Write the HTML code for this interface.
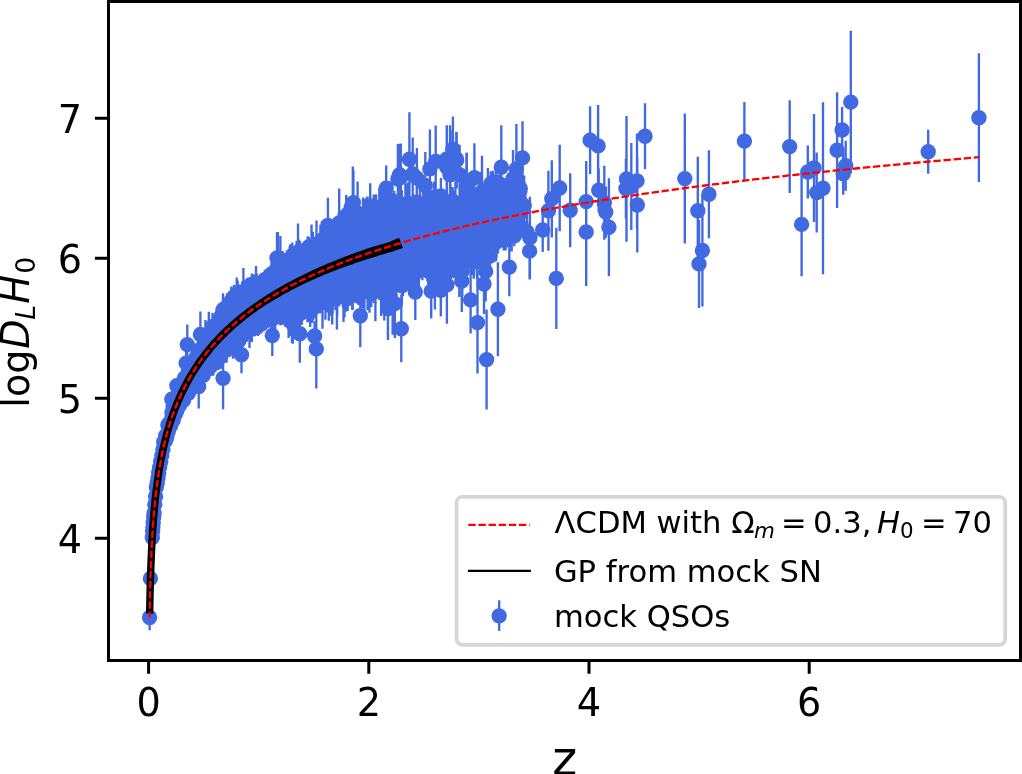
<!DOCTYPE html>
<html lang="en"><head><meta charset="utf-8"><title>mock QSOs</title>
<style>html,body{margin:0;padding:0;background:#fff}svg{display:block}</style></head>
<body>
<svg width="1022" height="774" viewBox="0 0 1022 774">
<rect width="1022" height="774" fill="#fff"/>
<path d="M150.4 574.3V582.7M152.3 534.8V540.4M152.6 528.8V534.4M152.9 524.6V530.2M153.2 519.9V525.5M153.7 513.9V519.5M154.1 510.2V515.8M154.8 501.6V507.2M155.6 493.6V499.2M156.3 484.4V490.0M157.2 480.1V485.7M158.0 475.1V480.7M158.7 469.9V475.5M159.6 464.8V470.4M160.7 458.9V464.5M161.8 452.7V458.3M162.9 446.7V452.3M263.3 289.6V311.2M266.1 306.4V323.0M442.8 203.9V243.8M245.4 317.9V335.2M328.1 262.2V299.0M261.2 287.1V309.0M376.1 219.7V255.3M219.8 333.2V351.1M363.0 197.5V242.3M288.5 273.9V304.8M219.3 317.8V337.8M304.0 268.9V291.1M249.3 292.5V323.4M283.2 259.6V289.8M424.5 252.0V273.1M296.9 245.7V268.4M265.7 290.4V312.5M332.3 226.6V262.2M265.0 294.5V307.9M299.9 299.1V323.9M342.9 276.4V307.7M189.8 359.8V382.0M219.1 319.0V336.4M177.2 404.4V414.5M344.8 259.5V287.6M173.8 403.6V414.4M308.5 292.7V317.5M448.8 195.6V230.9M310.9 253.7V268.9M424.5 208.1V245.8M254.1 292.8V316.6M461.2 193.0V229.4M349.3 255.4V276.0M310.4 275.3V300.5M227.9 317.3V344.8M420.0 213.6V247.6M239.7 316.7V337.2M299.5 277.2V302.1M205.4 347.5V362.6M280.8 278.1V299.3M349.7 260.9V295.9M257.8 292.0V313.5M263.0 274.1V289.5M228.2 302.9V319.9M272.7 279.0V300.1M299.5 258.4V295.7M436.5 235.4V271.9M177.0 402.8V417.8M239.0 312.1V324.1M383.5 220.7V257.7M218.4 316.3V335.7M284.6 292.4V309.8M514.8 194.9V219.0M350.8 219.3V259.8M472.2 218.8V267.8M419.8 217.2V242.3M266.7 294.8V324.4M437.3 228.8V268.7M258.7 301.4V329.1M322.8 238.7V273.0M220.8 327.0V345.7M242.2 301.9V347.0M201.7 357.7V370.5M359.6 227.8V270.4M308.9 237.1V256.3M292.3 242.5V271.0M261.4 293.4V310.3M290.1 287.1V320.5M247.2 283.1V326.4M256.7 273.6V298.8M251.8 273.4V300.5M355.6 223.6V250.0M463.1 229.5V251.5M360.2 252.6V274.1M292.0 290.7V311.3M385.3 222.1V251.7M293.7 288.3V320.5M260.2 290.4V317.6M354.1 264.1V293.2M253.4 297.0V316.1M347.4 251.3V274.9M313.2 272.9V297.9M452.2 234.7V271.3M381.1 267.8V316.1M219.3 339.1V354.8M208.1 346.2V369.3M379.4 255.1V300.0M336.3 266.4V301.4M303.4 269.4V305.5M260.8 309.8V326.2M350.0 225.8V251.7M339.1 238.1V277.8M390.4 195.3V260.9M226.6 329.6V362.8M242.0 321.9V330.4M284.5 275.4V300.4M266.9 293.1V309.9M266.9 304.0V316.6M269.2 298.6V318.1M389.6 209.7V249.2M179.6 386.1V398.6M271.5 268.2V279.7M327.3 266.4V286.2M185.3 375.4V385.8M269.9 270.1V302.7M206.2 336.4V364.4M347.5 233.6V281.5M236.0 307.6V337.9M241.6 294.8V314.0M298.2 250.4V278.4M228.5 330.7V354.2M291.4 279.6V304.7M278.0 298.2V315.2M243.7 299.2V327.6M294.1 274.4V314.7M208.7 340.5V351.6M271.9 266.1V285.9M220.6 325.2V363.2M330.4 230.4V254.2M349.3 239.7V268.1M345.3 252.5V279.8M358.0 250.6V271.6M273.4 280.5V314.4M409.5 196.5V246.9M255.2 287.3V308.0M492.6 184.1V251.1M274.1 293.3V306.6M401.8 190.0V226.2M311.9 245.3V275.7M227.1 332.8V350.7M327.6 233.4V264.2M297.8 273.9V302.9M241.6 304.3V322.7M222.8 310.3V337.1M274.9 286.2V319.7M284.6 282.6V301.6M241.2 300.9V320.2M209.9 359.8V373.5M311.9 276.4V290.4M187.8 377.1V387.3M360.6 233.9V266.4M368.6 230.8V286.7M283.7 299.1V317.4M203.1 359.2V372.2M362.8 253.6V306.3M328.8 259.6V284.0M306.1 282.1V313.9M257.3 298.2V314.1M192.2 362.7V369.6M212.0 346.6V359.7M340.9 281.8V304.3M237.5 290.5V313.4M311.1 277.0V303.5M387.6 190.6V234.9M238.5 306.3V321.6M236.5 294.9V313.3M443.1 228.5V261.1M297.7 253.7V317.4M290.3 288.1V306.0M289.3 261.3V308.7M227.5 339.4V354.5M331.7 275.4V300.7M256.5 284.0V316.3M347.5 286.3V310.9M305.1 277.2V296.6M395.3 193.9V230.3M274.1 267.9V294.0M223.0 321.1V335.6M234.6 310.8V334.5M206.8 340.6V353.7M295.6 256.2V272.7M340.6 250.8V284.6M349.4 232.9V296.2M469.1 201.0V243.2M272.2 284.4V299.6M262.9 293.9V307.4M261.2 296.7V318.0M332.0 257.4V294.3M355.7 248.6V273.0M180.8 391.9V406.8M353.0 214.7V247.5M329.7 233.2V268.8M253.5 294.5V321.4M418.9 238.5V287.8M246.2 289.8V313.6M269.5 270.0V288.9M320.7 253.4V275.0M427.5 203.1V236.6M373.7 194.6V246.2M393.8 252.5V281.8M293.0 304.9V323.5M351.6 246.4V265.6M436.6 264.9V288.5M511.2 205.4V229.5M344.4 257.3V280.3M256.1 304.2V327.8M348.8 238.5V275.8M243.2 281.2V301.9M378.0 212.4V238.8M289.1 260.5V286.8M297.5 286.7V303.3M214.6 332.7V348.5M291.1 273.2V304.7M240.3 298.3V321.4M322.6 273.9V296.0M238.6 294.4V312.0M354.3 244.5V273.5M328.6 270.7V292.2M204.3 364.2V378.2M251.8 287.1V303.5M249.3 296.4V312.1M277.0 295.3V316.9M382.1 206.8V229.3M247.5 304.9V319.5M395.4 264.9V292.3M409.6 270.2V290.4M269.3 287.4V299.0M252.6 297.9V324.3M346.3 250.8V311.4M274.8 268.3V313.8M468.4 204.5V224.3M273.5 268.0V287.0M170.8 417.5V424.9M280.6 293.5V313.8M352.7 264.4V310.0M265.0 284.6V302.5M205.4 339.1V350.2M382.2 234.4V272.9M198.7 339.7V367.0M278.8 278.6V301.8M259.4 290.8V324.2M270.3 293.9V314.7M313.6 256.3V289.7M420.5 198.0V262.2M384.6 244.1V271.7M344.5 261.6V317.3M360.5 256.5V314.4M452.6 187.0V215.1M326.8 260.6V301.5M461.2 197.8V226.1M261.2 310.6V333.6M249.6 301.1V323.4M280.6 287.4V305.0M496.0 218.2V261.3M284.1 272.1V313.0M341.1 268.0V303.9M234.0 290.2V320.1M328.7 269.0V309.0M245.7 299.4V320.0M325.4 234.7V287.4M308.1 246.8V282.9M319.0 271.8V290.5M258.2 310.2V320.5M305.6 288.1V311.3M206.9 338.5V357.0M462.7 196.7V226.1M314.9 239.2V264.6M352.6 226.0V252.8M451.8 187.9V214.4M406.8 189.8V238.1M252.9 290.5V316.3M364.5 213.6V245.2M253.9 313.4V330.0M187.1 373.4V388.3M331.8 280.1V303.7M394.7 243.4V287.3M201.6 349.4V366.4M275.5 265.1V281.1M373.6 240.8V274.9M382.8 208.9V248.3M264.8 292.8V307.8M223.2 307.8V320.9M353.4 222.5V255.1M314.6 272.9V297.4M325.6 229.6V265.0M411.8 214.3V248.1M231.3 316.6V340.3M250.6 279.4V290.0M381.5 235.8V261.2M228.8 327.5V350.3M407.2 185.2V226.4M386.2 284.3V308.3M350.7 218.9V250.3M351.7 216.3V268.8M217.8 319.5V332.8M282.3 304.1V317.9M403.1 260.5V292.9M232.9 293.3V327.0M258.3 307.9V328.5M227.1 328.4V352.7M305.2 280.2V317.7M201.8 355.3V369.1M343.0 215.7V249.3M398.1 219.9V247.7M309.5 286.5V315.7M222.6 340.6V361.0M269.2 284.1V305.2M168.8 419.8V427.3M237.3 316.7V342.7M270.8 274.5V290.8M259.3 292.0V314.3M327.4 263.4V309.0M257.7 283.8V300.8M302.8 255.0V284.9M440.0 235.2V258.9M377.5 218.7V251.1M319.6 244.5V279.4M225.8 322.7V338.2M296.4 281.3V302.7M249.6 312.7V325.0M199.1 368.7V380.4M269.2 283.7V308.9M233.5 321.4V349.8M270.7 265.3V289.5M459.0 213.6V233.8M402.6 212.9V245.5M245.4 309.6V336.6M255.7 295.2V318.8M240.5 313.0V335.8M453.0 230.6V271.4M224.5 320.9V336.1M228.5 320.8V344.2M272.6 291.5V315.0M257.0 308.2V322.9M467.2 183.8V209.4M287.3 275.2V312.2M266.1 280.4V302.7M274.5 290.2V304.8M198.7 352.8V367.0M353.9 228.8V262.1M302.2 249.1V274.4M472.5 183.5V226.0M270.1 277.3V303.2M173.7 398.6V411.5M270.7 295.0V309.7M417.1 201.0V245.8M183.2 383.9V392.8M297.9 255.3V291.6M204.0 340.2V360.2M329.0 249.8V299.8M279.5 281.7V310.1M474.2 207.2V238.5M254.6 282.0V304.7M269.2 279.9V305.8M208.6 332.9V343.9M203.5 352.8V365.1M292.0 279.2V306.8M363.4 239.7V283.2M234.5 292.7V318.9M251.4 310.6V325.7M367.5 196.5V250.8M243.1 300.5V321.8M254.5 305.5V329.0M264.8 269.7V289.5M274.2 295.1V312.5M360.9 232.1V257.9M281.6 265.9V306.7M212.7 342.5V361.0M191.8 364.2V385.6M195.2 358.3V368.9M243.3 315.5V333.0M447.9 206.8V231.7M339.7 248.3V293.6M262.9 292.7V311.1M184.2 385.2V394.4M454.0 243.9V278.2M243.6 322.4V338.3M250.1 315.3V328.2M207.1 336.6V349.8M262.8 307.1V321.2M265.7 307.9V322.4M239.2 308.6V326.2M187.2 372.4V380.8M343.9 243.3V276.0M334.0 262.7V286.1M187.7 387.0V400.0M386.6 212.6V255.4M298.0 246.2V272.8M328.6 262.7V286.6M245.6 301.7V320.9M293.8 291.2V312.2M182.6 390.6V400.9M228.4 313.8V340.5M301.9 265.1V302.1M302.8 249.1V289.5M286.8 272.3V297.0M231.9 319.2V348.1M344.6 268.8V289.3M430.4 194.8V247.3M369.5 263.9V312.8M229.7 312.0V328.4M319.2 266.1V294.7M285.3 301.6V327.0M383.4 262.1V295.5M299.7 278.7V301.0M330.1 258.1V282.5M289.1 278.1V302.1M435.5 253.5V281.9M215.5 323.1V336.8M190.2 378.9V392.9M213.7 352.1V373.2M340.3 237.5V272.5M194.6 352.7V368.4M180.3 394.2V411.3M277.8 275.3V300.7M242.8 319.6V339.9M426.5 221.9V248.4M283.9 253.7V278.7M231.3 286.4V315.2M219.3 342.6V357.9M205.9 340.4V359.3M280.5 286.6V304.1M197.4 372.3V382.0M292.0 261.1V282.8M225.7 313.8V345.6M261.3 314.5V333.5M329.7 280.6V300.9M172.7 410.1V419.6M396.9 208.3V253.0M362.9 267.8V308.0M200.5 343.7V354.8M289.1 287.6V319.7M199.7 365.9V378.3M238.0 290.8V328.7M240.7 292.6V305.7M240.4 316.0V332.2M283.4 283.7V304.1M216.1 330.5V343.5M431.8 189.8V220.7M225.1 331.7V346.5M396.5 237.5V263.8M352.7 256.9V296.4M374.3 213.2V234.2M457.5 196.0V231.3M443.1 227.4V258.7M371.5 212.7V233.8M195.9 363.9V381.1M227.9 293.4V324.7M215.3 331.5V347.8M284.7 253.0V289.5M298.8 294.4V323.5M232.0 325.8V348.3M284.3 284.3V315.3M336.8 244.5V267.8M215.8 325.3V347.1M297.1 282.3V304.6M212.1 341.2V359.3M229.5 333.1V355.0M278.8 263.8V278.5M294.1 281.7V307.5M419.7 209.2V235.2M191.8 363.8V377.1M297.4 261.3V288.0M235.4 299.0V313.9M305.0 259.8V280.1M367.6 256.0V310.3M220.8 336.5V368.8M354.5 225.8V258.8M261.8 307.8V328.6M275.1 305.6V329.1M207.1 344.6V356.9M257.7 309.3V335.3M235.2 331.5V353.3M481.9 214.0V243.8M332.9 248.0V292.6M483.8 241.8V277.0M229.9 321.4V335.4M318.2 235.0V258.4M318.0 247.0V269.7M248.0 289.0V304.9M283.0 264.7V282.9M246.5 305.0V322.1M350.1 240.0V268.0M307.4 276.6V322.3M197.8 366.8V382.0M252.1 309.1V334.9M329.6 280.3V311.8M315.8 240.6V285.7M366.3 197.6V235.5M355.8 263.8V299.3M217.1 321.9V342.7M407.1 228.1V251.6M225.2 317.8V334.9M276.4 272.9V303.2M263.3 277.9V301.0M332.3 281.8V310.5M285.7 296.8V316.7M317.6 267.5V298.9M206.4 337.2V347.8M254.9 300.3V315.2M340.9 237.1V294.4M339.9 251.8V289.0M402.3 202.3V239.7M316.3 254.7V277.1M173.1 402.5V411.2M222.8 334.6V350.1M304.6 249.9V280.6M286.4 290.9V317.3M393.5 265.3V303.6M319.5 251.9V297.5M272.5 280.5V305.2M273.3 288.2V301.8M212.4 330.7V352.7M188.2 369.4V390.3M416.7 185.1V219.0M218.2 325.9V353.5M355.1 202.6V242.5M200.9 351.5V364.2M296.6 278.6V301.0M311.2 261.3V285.4M309.3 278.7V296.9M264.8 289.9V308.6M359.0 255.8V283.2M194.2 358.6V380.4M394.4 194.6V234.3M388.1 196.8V224.5M234.5 327.7V342.4M280.4 293.3V325.4M281.4 259.6V281.4M220.4 350.1V363.8M399.4 231.2V261.5M383.6 237.9V279.2M317.0 253.3V281.4M254.9 276.1V313.2M248.3 279.8V303.4M345.6 248.3V277.6M318.4 273.1V288.6M288.5 263.5V292.7M368.2 254.2V295.9M193.9 378.6V391.9M416.8 225.2V270.4M284.3 288.2V312.0M322.9 250.5V281.5M325.0 229.6V287.6M337.8 252.3V275.0M229.2 304.3V332.7M376.1 194.2V245.8M277.7 287.7V305.5M224.8 310.2V358.7M376.1 265.0V287.9M374.0 259.8V303.1M251.5 293.3V308.5M299.8 241.9V259.3M289.9 272.2V297.9M246.0 284.6V304.0M294.9 285.5V316.3M270.3 285.4V305.4M294.3 272.5V295.1M213.3 349.7V365.9M372.6 235.7V263.8M431.3 216.2V251.9M330.7 248.3V290.7M204.7 359.9V375.3M326.7 243.8V270.8M498.0 225.7V253.4M252.0 308.1V320.6M240.9 294.0V306.6M202.0 343.8V358.0M442.1 193.7V238.5M328.8 276.2V320.8M362.3 253.6V304.1M223.0 325.8V346.4M300.4 271.8V295.6M279.2 270.2V292.2M515.6 190.6V213.3M207.3 331.7V348.5M321.7 225.6V254.9M305.9 269.1V294.2M329.1 283.3V301.1M357.8 204.5V261.3M228.9 304.6V349.0M250.0 300.8V317.2M280.7 291.7V308.1M301.4 264.7V303.9M229.9 331.1V345.1M292.1 292.5V311.7M333.1 231.4V267.7M413.2 194.2V269.1M462.9 190.6V232.5M251.6 310.5V324.8M391.8 205.7V285.5M382.8 248.2V277.9M348.9 246.6V289.1M317.3 273.8V291.5M346.2 195.1V236.3M313.4 236.6V268.0M336.6 239.7V260.9M332.6 245.9V266.4M228.7 323.7V351.7M273.4 307.4V329.0M225.3 318.9V335.0M194.0 372.4V385.9M282.0 287.7V313.5M241.5 324.9V340.9M321.2 273.7V290.6M215.5 340.4V359.0M236.6 291.1V312.4M344.9 204.6V239.3M257.2 298.7V314.2M293.6 263.2V283.6M392.1 232.0V263.2M255.9 293.5V312.8M259.2 297.0V325.3M239.4 302.8V324.8M278.2 287.9V305.5M375.1 197.3V255.2M222.8 334.1V352.7M285.5 270.8V301.8M318.7 249.1V295.9M271.4 271.5V306.7M183.2 384.2V393.7M222.9 315.2V330.6M428.6 252.7V277.5M246.7 313.4V335.8M277.9 258.3V287.6M332.7 250.0V271.0M294.8 287.7V310.6M349.8 234.1V265.5M444.1 232.4V259.5M368.8 202.1V244.6M199.4 344.2V369.2M235.7 322.7V341.4M388.3 251.8V284.8M224.8 342.7V359.0M406.5 223.4V254.8M194.4 367.3V384.0M272.5 294.4V311.7M368.3 218.4V272.3M404.0 269.3V292.9M326.0 237.4V257.9M220.4 323.8V341.7M334.2 231.4V267.6M359.1 237.1V270.4M384.1 204.7V231.8M292.9 272.9V301.9M357.4 211.7V238.0M302.9 253.3V276.5M278.2 295.5V321.7M275.7 285.1V310.8M238.1 298.6V322.3M273.2 284.5V300.9M222.6 332.1V363.1M353.9 233.5V264.2M348.4 197.8V229.1M313.6 253.0V274.7M337.2 268.9V292.7M270.1 278.7V297.2M204.4 343.2V364.0M327.2 278.0V298.2M279.3 272.3V295.6M293.5 271.0V290.0M266.1 281.5V300.1M305.0 277.3V313.6M257.5 291.4V316.8M354.4 199.3V226.4M300.6 295.2V323.5M274.3 297.9V321.2M373.0 267.4V297.6M357.6 231.1V260.8M228.6 318.6V339.2M258.5 288.2V309.0M232.5 321.7V343.6M282.7 251.0V308.2M218.6 343.3V359.7M313.5 264.2V289.4M277.6 279.7V309.1M278.8 288.2V312.9M335.0 231.4V246.9M313.4 266.4V292.0M257.1 296.1V322.2M301.2 261.4V288.3M272.2 298.5V315.2M311.6 273.2V301.7M423.2 183.2V233.6M212.6 322.1V342.0M281.9 294.9V312.9M296.9 284.2V304.1M232.8 306.6V321.1M225.5 313.1V335.8M289.6 260.0V295.8M365.1 232.4V274.4M234.9 289.0V321.8M453.8 222.2V248.5M306.1 256.4V304.7M299.7 262.4V280.6M279.0 280.6V310.7M228.0 302.8V323.0M313.9 256.5V282.0M365.2 215.1V242.1M225.6 320.7V338.9M333.5 220.5V259.6M352.4 208.7V236.4M456.1 213.4V244.8M203.4 354.8V368.1M184.0 388.1V395.7M212.1 345.7V367.1M180.6 389.9V399.0M371.1 233.2V268.9M317.7 267.4V312.3M427.4 227.2V281.3M379.9 227.7V256.7M308.9 241.6V269.2M309.4 281.3V319.3M210.8 345.3V361.6M393.1 225.4V250.7M332.3 221.3V265.5M234.7 318.5V354.5M291.5 247.9V279.2M317.9 277.9V302.1M211.5 327.2V340.4M263.4 301.9V317.4M186.9 379.4V390.2M222.9 312.7V330.6M284.0 272.2V289.6M246.7 292.1V309.3M220.2 326.2V350.5M318.6 263.8V289.5M327.3 224.1V253.4M327.0 254.1V283.6M373.0 209.1V264.2M503.7 187.4V227.4M319.1 273.2V301.9M291.9 253.2V269.6M295.7 269.6V309.4M244.2 295.1V320.9M389.0 181.1V217.7M236.3 306.7V337.2M352.9 247.6V285.4M254.8 318.2V336.2M359.0 233.6V302.5M446.4 199.9V259.3M265.2 316.3V325.7M282.3 253.8V287.2M380.0 262.7V298.9M425.4 213.4V273.3M266.9 292.5V306.3M290.9 292.5V322.3M252.1 294.6V312.0M275.1 301.2V321.6M258.5 287.0V306.1M343.5 258.3V298.6M292.4 248.5V267.5M369.1 256.5V286.7M193.7 364.7V379.1M416.9 259.3V284.5M313.4 264.3V292.6M201.4 360.7V372.0M197.1 362.9V377.4M236.9 313.2V327.7M501.0 216.0V232.1M263.3 287.0V304.2M217.5 323.1V351.6M314.9 245.2V280.1M243.1 307.7V339.0M291.7 246.8V276.1M273.1 291.9V311.9M276.2 275.5V300.5M359.8 244.8V269.5M405.5 209.5V242.8M452.5 241.5V264.6M249.8 301.4V331.5M230.3 311.4V335.2M186.1 374.4V384.7M229.7 327.5V348.7M434.2 185.3V216.6M357.4 233.9V267.9M258.8 314.8V334.9M191.1 373.0V387.9M288.9 290.3V314.4M245.4 297.6V341.3M272.2 300.7V323.5M302.1 274.9V297.0M300.8 267.3V289.8M405.4 183.6V227.0M297.6 268.4V296.9M183.7 388.9V397.7M426.4 220.7V240.0M165.4 436.4V445.0M256.1 277.9V321.8M296.9 266.7V299.4M245.2 300.7V320.5M191.8 368.7V387.1M223.1 319.0V337.5M190.5 369.4V381.3M352.5 254.2V286.8M355.9 254.2V283.8M318.8 261.6V280.1M428.1 194.4V229.7M289.7 246.3V274.7M333.2 285.9V305.8M346.0 243.5V268.1M488.6 221.3V260.7M323.7 283.9V310.0M347.7 276.0V309.7M233.2 317.7V341.0M307.1 262.8V296.3M350.1 232.8V269.9M241.6 304.5V330.5M317.8 257.9V293.4M313.7 293.5V316.6M269.5 278.3V304.4M170.6 421.5V430.2M279.7 273.9V289.9M316.4 258.5V304.3M245.0 304.2V322.0M352.2 268.0V309.5M351.8 231.0V260.4M299.3 239.7V277.8M277.5 294.1V308.0M266.6 296.0V313.4M446.2 206.9V236.0M251.3 286.8V303.9M337.2 223.4V288.3M476.4 227.7V247.9M233.4 324.6V341.6M440.9 260.2V289.3M455.4 181.4V225.9M310.8 260.1V288.0M298.6 257.2V277.7M253.1 276.6V298.1M418.5 201.2V228.4M332.2 255.5V281.8M223.0 293.2V331.2M452.1 194.4V218.6M288.6 248.8V272.7M200.9 345.9V362.1M188.1 376.5V384.4M199.1 347.6V362.2M246.9 286.8V300.9M266.2 303.3V313.6M449.1 202.1V237.5M212.7 340.3V357.5M307.1 261.6V293.8M251.3 289.6V301.4M328.1 250.0V300.8M319.9 270.5V313.6M269.9 292.8V307.7M282.8 299.5V324.8M305.9 273.1V297.1M278.0 264.8V290.8M320.3 259.4V289.7M412.5 223.0V258.0M227.8 326.6V348.6M326.9 272.9V296.1M191.6 364.5V374.8M338.0 234.6V262.6M202.3 361.2V379.8M357.5 242.1V273.9M248.8 286.4V307.9M202.9 367.9V380.0M306.3 262.8V290.7M289.0 266.5V296.6M297.9 264.1V291.1M242.5 327.5V343.6M228.5 312.2V346.5M248.9 300.7V325.8M222.7 329.7V345.5M246.0 280.7V309.1M256.8 317.1V335.3M362.7 239.0V282.0M402.9 266.8V296.1M215.7 335.9V347.9M333.8 249.1V276.5M199.0 353.7V382.9M465.0 227.9V274.2M195.1 360.0V374.9M356.9 248.9V278.9M190.3 371.7V381.5M187.5 382.5V393.3M196.0 371.3V388.9M319.4 268.3V309.5M330.9 261.2V315.7M265.4 281.4V294.4M215.1 338.8V353.9M207.5 325.2V344.7M265.0 306.9V322.6M275.1 284.8V311.1M222.2 337.0V353.3M505.7 210.3V243.7M295.3 261.5V283.6M337.2 274.3V316.9M267.4 278.7V297.6M208.4 348.2V362.7M395.7 242.7V290.2M274.4 272.1V289.9M249.5 296.0V347.9M251.7 312.6V336.4M275.2 274.2V294.8M254.8 289.7V302.0M463.6 211.1V252.3M294.7 256.5V293.6M196.5 351.1V362.3M267.1 302.5V318.2M465.5 207.9V247.4M269.5 295.5V326.9M316.8 271.3V289.0M198.3 356.6V367.7M287.5 256.4V285.5M252.0 292.2V327.0M382.1 256.4V282.1M239.9 295.2V317.4M466.0 229.1V282.3M223.6 330.5V349.6M221.5 326.6V354.0M250.0 280.6V308.1M297.8 268.8V297.7M228.0 297.7V312.8M397.5 195.5V242.2M301.9 286.0V316.3M213.2 350.5V375.8M369.0 249.1V274.1M211.2 329.2V351.5M327.4 242.3V306.9M176.6 406.3V415.9M327.6 250.4V269.3M237.7 315.9V339.2M239.6 328.2V341.9M263.9 290.2V309.5M244.8 307.6V333.2M382.6 224.3V269.0M275.9 282.5V314.3M365.0 230.3V261.7M316.8 278.5V309.3M310.2 296.2V327.0M205.1 341.0V356.6M203.9 338.6V353.3M226.9 324.3V348.5M355.8 237.9V275.4M439.4 241.6V273.0M285.5 279.9V301.7M293.9 303.5V329.8M214.6 340.7V360.0M261.1 291.8V314.4M236.4 329.0V341.8M261.0 300.1V316.1M207.4 345.7V360.6M262.5 274.1V300.2M298.8 278.9V314.5M292.3 306.6V327.4M365.9 267.4V295.8M275.6 299.4V318.4M311.3 255.4V284.5M374.9 204.9V232.3M301.6 300.9V320.6M187.8 376.2V387.3M219.5 323.0V344.9M243.0 309.2V340.2M210.9 341.0V363.7M349.7 276.7V302.1M203.4 340.4V351.3M279.2 268.9V301.6M293.0 302.7V318.9M394.6 227.4V261.7M215.6 355.0V370.3M314.9 252.2V287.7M275.3 272.7V294.7M197.0 348.5V363.4M413.4 236.4V273.7M312.6 274.8V294.4M271.2 303.2V323.1M472.0 200.4V229.0M316.0 242.7V282.6M199.0 360.2V372.0M253.9 300.1V316.8M290.3 244.2V307.6M283.5 277.5V301.1M330.5 235.8V276.7M200.3 356.2V371.4M297.0 298.5V323.5M311.5 259.4V285.0M360.7 245.8V267.9M336.2 263.9V284.0M277.2 303.2V319.4M208.4 351.3V366.6M281.1 257.7V280.5M289.0 268.3V287.4M265.9 270.6V287.9M279.3 264.4V281.4M360.0 229.2V269.1M276.2 263.8V280.2M231.7 324.9V345.8M291.7 266.1V291.4M251.9 318.7V332.2M504.4 199.4V225.1M286.2 283.4V298.9M339.1 240.8V302.3M363.1 211.2V240.3M362.2 239.3V273.4M265.4 289.5V301.9M328.8 260.2V290.7M317.4 236.2V276.4M434.5 234.1V267.7M265.6 282.2V299.5M287.6 295.2V323.4M381.1 191.9V234.9M219.9 329.4V356.4M206.2 346.5V359.1M238.3 313.4V344.9M335.5 277.1V310.2M276.9 281.5V312.7M219.5 310.6V332.3M299.2 242.8V269.2M238.2 310.0V342.9M296.5 245.8V267.3M410.8 227.8V260.1M175.3 410.5V418.2M184.1 381.2V396.1M238.6 305.1V334.1M320.4 224.7V273.2M372.2 268.0V293.9M331.5 221.7V254.7M328.8 237.0V259.3M207.3 334.2V354.9M327.0 287.4V312.6M299.2 305.1V322.3M352.2 199.7V261.0M233.2 314.7V344.2M171.9 405.6V419.3M325.4 272.3V319.7M241.2 294.0V321.4M365.4 219.8V258.2M215.2 348.9V372.0M299.1 273.8V302.0M339.2 273.2V306.3M283.8 296.7V309.6M355.6 205.3V247.8M319.9 255.8V288.4M243.8 322.5V339.9M318.3 268.2V301.4M246.2 319.7V342.0M216.6 345.9V359.6M359.3 217.6V263.5M263.4 311.4V326.3M299.0 261.2V302.4M481.7 174.5V220.7M271.2 305.6V328.4M331.3 276.5V300.7M303.8 270.5V299.2M505.4 210.2V240.9M201.7 352.9V365.3M166.4 434.4V441.9M361.5 242.5V272.5M329.4 240.4V263.3M364.4 262.8V315.2M365.4 251.5V288.6M431.7 240.0V270.8M270.3 288.2V304.5M260.2 279.1V308.1M262.6 284.3V298.4M329.0 231.2V282.9M397.0 226.9V286.2M213.9 337.2V347.9M404.6 210.8V239.7M215.3 334.8V367.2M218.9 339.3V359.5M224.2 313.5V330.5M210.0 323.5V345.0M249.7 293.9V313.0M386.7 220.2V265.7M333.9 245.3V270.8M350.1 243.8V290.7M273.8 269.3V297.0M362.4 239.8V285.3M300.7 302.8V323.6M295.8 271.0V293.4M219.9 335.3V351.4M312.8 231.8V296.6M221.8 340.1V354.6M340.4 253.6V286.9M250.0 299.0V312.3M200.3 356.0V378.1M417.0 232.1V254.1M237.0 322.9V341.9M346.8 264.3V301.6M405.6 215.2V244.0M272.1 271.1V306.1M366.0 242.5V280.9M448.4 245.1V290.3M237.4 304.1V326.3M248.9 288.8V311.3M220.3 313.4V340.9M236.0 299.7V323.5M345.8 247.7V276.3M368.8 247.3V274.1M249.4 286.3V321.1M336.6 232.2V267.4M255.2 287.8V309.9M427.4 238.6V278.8M294.6 286.0V328.1M277.8 275.8V299.1M351.6 237.5V262.8M259.6 294.1V307.5M214.1 327.9V346.1M283.5 309.5V324.2M168.4 426.1V436.2M216.2 318.6V347.4M212.9 346.4V356.7M292.1 277.8V299.9M260.5 276.9V291.2M235.2 288.0V334.5M343.3 262.5V289.4M371.3 215.1V272.7M505.7 214.9V250.6M242.2 300.0V321.0M262.0 311.2V331.5M184.9 371.8V388.0M180.9 399.3V405.6M296.1 251.1V273.8M429.8 243.9V273.3M226.6 317.3V329.7M186.4 375.8V384.4M251.1 299.3V320.0M209.9 326.6V342.9M236.6 304.3V315.3M211.3 335.2V354.6M234.6 311.3V337.5M334.9 241.3V277.9M221.3 322.7V339.5M274.1 295.5V308.2M236.2 309.6V327.0M261.3 284.1V300.8M378.3 259.0V292.0M280.8 257.6V273.8M248.6 308.2V327.0M358.1 250.3V274.7M197.2 364.8V374.8M248.6 299.8V326.5M230.1 338.8V356.7M216.7 339.3V352.5M294.8 262.5V292.5M213.7 346.0V363.6M200.4 345.6V357.5M381.1 233.4V267.8M282.7 277.8V307.8M232.8 291.9V307.3M263.4 304.4V324.8M324.9 246.5V288.9M274.8 288.5V312.0M198.6 359.2V379.1M436.7 205.4V226.4M239.1 330.6V350.4M435.0 188.0V251.8M428.9 253.0V289.9M454.9 211.8V257.3M258.9 285.0V303.1M328.4 264.7V298.4M391.7 218.9V270.3M182.9 380.7V396.4M272.4 283.9V304.0M470.5 195.2V241.2M259.3 288.1V303.1M276.5 277.7V292.0M172.1 413.3V420.4M390.1 234.5V275.4M221.1 324.0V342.0M281.2 277.3V293.4M224.2 303.8V322.8M324.0 253.3V283.4M415.1 195.2V240.2M198.2 350.3V366.4M310.5 302.0V320.2M402.3 233.6V264.3M351.9 241.5V291.2M292.1 269.7V307.3M270.7 269.2V284.4M198.3 359.5V374.3M291.4 271.7V292.3M223.6 301.0V317.5M300.3 264.8V288.4M214.2 350.6V370.3M328.4 280.0V309.9M317.3 261.1V284.4M271.8 281.6V296.3M273.4 300.8V317.1M275.0 257.2V290.3M253.2 274.3V295.9M251.8 301.9V341.9M189.3 373.2V392.6M195.6 368.9V386.7M227.9 308.8V331.0M256.1 306.9V319.9M404.3 197.2V235.1M387.8 182.8V240.3M405.4 229.6V253.1M351.1 267.7V298.0M258.4 300.6V329.0M330.1 245.2V275.0M329.0 235.7V277.0M265.9 290.2V309.0M250.9 312.1V334.8M355.0 212.0V244.3M368.1 239.1V271.3M198.1 350.7V364.8M508.3 184.3V216.4M292.5 252.9V278.0M215.7 327.8V338.4M322.1 233.3V261.9M352.0 220.9V277.1M308.0 266.8V291.9M185.2 385.6V394.0M302.8 286.3V310.9M269.6 305.5V318.7M378.5 237.2V292.0M190.5 372.1V385.6M232.2 313.5V336.4M420.1 188.9V218.7M279.7 294.0V319.6M193.2 359.3V372.6M379.3 188.3V245.4M321.9 260.1V294.8M240.1 319.8V333.9M191.2 369.1V379.0M336.1 276.5V305.7M337.1 220.3V257.6M210.0 330.4V346.2M373.4 228.2V253.7M249.4 287.5V303.5M197.5 351.9V365.3M266.8 287.3V316.7M285.4 267.0V284.5M188.0 367.2V377.6M183.6 381.8V393.8M353.9 211.8V247.8M330.9 219.5V244.9M318.4 276.4V307.6M272.8 284.1V308.2M471.7 226.4V270.7M317.2 257.6V282.5M302.9 268.8V311.5M270.8 269.9V289.6M366.6 245.5V277.0M292.0 260.1V282.4M412.9 212.3V255.4M280.4 268.5V299.2M263.1 306.6V321.8M359.8 206.1V251.0M386.8 227.1V272.5M277.7 287.7V304.4M352.7 262.6V297.8M484.8 188.6V230.1M205.5 346.2V373.2M174.1 409.8V419.7M265.8 292.0V309.5M188.2 381.4V392.4M308.3 240.4V263.4M244.5 308.0V337.2M487.7 182.3V208.8M190.7 380.1V392.3M244.9 293.6V311.2M251.0 313.5V335.7M253.4 290.8V315.4M191.0 355.6V373.6M440.9 178.0V214.0M241.7 289.9V310.0M395.3 252.8V283.5M176.3 402.2V414.7M232.8 306.8V331.6M204.0 339.3V356.2M303.9 286.0V312.4M195.5 369.4V385.2M273.6 307.8V323.6M394.2 190.8V224.0M413.1 248.0V281.2M447.9 204.8V241.2M218.6 326.7V349.2M296.5 261.1V284.9M341.3 257.6V292.2M217.3 329.5V349.7M340.1 218.4V262.0M261.4 283.4V306.2M445.7 227.3V253.7M302.2 247.1V281.0M346.0 219.0V289.5M251.7 308.0V321.5M260.2 291.2V314.4M323.5 273.8V299.4M299.0 282.3V300.2M401.9 266.0V305.8M350.2 214.9V265.0M242.6 296.5V311.8M385.0 210.5V251.1M280.0 277.6V308.9M312.7 241.5V265.1M237.5 316.0V340.1M355.8 197.4V234.1M202.8 353.2V364.0M326.0 268.5V306.7M240.7 304.7V323.4M253.3 310.1V336.6M244.2 315.8V330.4M244.0 295.5V309.8M362.0 262.2V291.3M218.3 336.1V369.6M215.3 316.1V336.8M268.7 291.2V314.3M367.8 228.3V258.5M204.6 361.6V372.4M181.9 396.0V403.2M324.1 269.0V290.0M219.1 327.0V347.7M192.7 354.1V376.1M490.7 223.1V242.3M450.5 201.6V218.2M196.3 362.1V380.1M344.7 260.3V309.4M257.0 301.6V322.2M255.2 306.7V321.3M332.7 278.0V313.8M179.6 401.0V409.4M247.0 282.1V328.2M181.6 386.7V396.8M432.8 201.6V227.3M313.4 296.8V318.9M344.9 231.7V310.0M301.8 292.0V324.7M406.2 185.2V224.7M305.2 265.0V284.4M284.6 265.3V290.7M296.6 240.7V266.1M272.7 305.1V330.4M303.9 271.3V292.5M316.3 246.4V290.3M229.8 310.6V326.8M257.7 296.5V311.6M295.0 254.7V282.4M298.1 261.3V289.2M269.5 295.6V308.0M167.9 421.9V428.0M236.0 320.4V336.4M296.3 250.7V283.3M193.0 357.4V375.3M416.3 244.8V288.1M398.2 233.8V275.8M260.5 288.5V311.4M431.1 218.1V245.2M215.5 322.1V341.6M424.2 230.5V260.4M315.1 236.7V260.2M270.3 277.1V312.7M324.5 230.9V259.5M342.8 211.0V259.3M173.4 413.0V420.3M233.3 312.9V332.2M200.8 345.7V358.6M230.3 331.8V350.6M465.3 207.4V235.7M267.0 290.2V311.6M227.3 307.3V328.7M236.0 327.7V345.8M309.6 241.6V287.0M393.2 196.9V228.0M269.0 290.2V317.3M323.6 264.3V288.4M250.4 290.1V305.5M182.7 385.8V401.1M197.9 353.1V363.5M264.5 275.4V290.0M206.1 357.6V376.9M205.0 340.5V355.4M327.8 227.7V247.6M173.2 415.6V424.8M205.6 337.8V362.4M196.0 353.3V369.9M243.2 309.2V332.0M282.4 270.6V297.3M232.6 330.8V349.1M234.6 307.2V335.3M219.8 336.9V356.1M268.5 280.4V293.4M262.1 293.6V308.5M229.6 314.8V336.2M382.0 196.2V235.6M290.6 264.2V288.5M272.4 296.3V311.4M375.2 234.8V274.9M241.6 319.0V335.2M251.7 294.2V306.4M221.3 307.7V324.3M305.1 269.7V310.7M385.0 190.8V245.9M289.9 285.9V310.5M247.3 285.6V313.9M196.7 366.9V383.6M330.5 284.7V309.0M332.9 268.6V307.8M417.7 209.6V241.4M366.9 241.7V275.1M450.7 195.3V233.1M343.6 249.6V275.5M254.7 274.8V297.1M334.4 239.3V287.4M205.4 346.0V369.3M206.0 357.0V373.3M261.9 299.6V326.2M204.8 345.6V357.1M385.6 268.8V308.3M299.7 291.6V314.4M324.7 259.0V301.7M259.2 296.4V315.8M204.8 348.3V365.8M178.1 397.2V408.2M316.7 280.4V300.8M310.4 301.3V313.4M231.5 294.1V311.1M252.3 287.8V308.0M438.7 195.1V248.8M242.0 313.6V334.8M307.5 276.0V309.9M181.2 389.9V400.5M280.5 268.9V291.8M222.2 320.7V345.6M368.6 235.2V269.3M289.1 257.7V291.9M494.9 206.7V259.1M278.4 289.4V321.9M363.7 250.4V278.2M249.4 300.0V327.9M270.2 266.8V292.7M215.0 315.2V341.4M436.5 244.2V276.2M265.4 297.0V325.6M329.8 249.9V284.0M188.3 370.6V382.0M231.5 320.7V350.5M329.9 221.9V250.8M388.9 257.4V283.4M212.8 341.9V360.6M385.1 200.5V227.0M265.7 277.4V293.6M190.0 372.1V385.6M368.1 243.8V263.2M360.8 232.7V261.8M304.4 247.6V271.8M215.5 336.8V351.1M364.6 232.0V258.6M402.9 243.1V264.5M373.3 228.4V256.9M281.8 271.2V288.7M309.3 274.2V306.1M218.6 315.4V333.9M242.6 300.3V330.3M378.4 235.5V283.7M321.9 243.0V275.2M240.8 296.7V323.1M269.4 302.3V319.4M272.1 267.1V302.0M324.2 230.6V270.1M379.9 221.7V258.5M379.8 208.1V245.1M291.7 289.1V314.1M309.6 248.8V269.3M219.6 321.6V347.0M320.5 241.9V262.9M300.2 245.8V277.6M307.7 291.1V321.5M198.1 352.5V366.5M357.8 214.7V256.7M291.8 248.1V280.5M474.0 200.9V222.8M247.6 300.3V312.4M332.7 285.5V310.5M229.3 326.2V352.2M225.9 314.7V337.5M498.3 191.9V222.2M267.2 286.9V308.7M260.8 293.0V322.9M259.8 302.5V317.2M326.3 237.7V265.4M180.4 380.3V400.6M277.6 283.8V297.9M163.7 439.2V444.7M320.4 268.5V291.6M239.4 295.1V316.4M418.5 231.9V269.2M311.3 246.4V272.7M303.3 270.4V304.9M179.1 394.4V409.5M270.5 289.7V310.1M229.8 324.8V340.0M283.1 287.9V308.6M250.5 313.5V333.2M270.4 296.9V319.7M275.7 290.0V305.8M367.6 226.6V281.8M208.7 348.3V366.6M190.0 361.1V379.8M323.3 283.0V307.1M239.7 303.2V321.4M205.8 343.4V381.2M375.0 223.9V243.6M273.4 302.1V320.6M287.3 277.2V299.7M250.4 288.4V305.5M337.7 233.4V256.3M375.4 251.2V302.1M438.1 235.0V263.7M210.8 355.3V369.9M222.1 330.3V351.6M183.5 395.0V405.5M358.4 257.0V281.3M399.5 257.7V281.1M351.4 245.9V281.4M269.7 289.7V314.9M406.6 227.7V262.2M243.7 304.0V329.5M453.6 190.5V226.4M256.1 303.7V318.8M318.4 267.0V303.2M262.9 278.3V298.3M238.8 286.9V329.0M317.0 278.4V312.0M405.7 257.0V284.5M345.6 202.9V237.8M187.5 373.3V380.9M511.5 194.2V216.8M276.0 282.8V306.0M289.8 265.6V294.2M381.9 189.1V223.1M350.2 232.2V262.6M367.4 266.4V293.6M232.0 310.3V327.9M237.2 327.1V342.5M221.5 309.2V340.7M234.7 303.3V318.9M264.9 278.8V292.2M427.0 199.6V260.0M379.8 227.8V260.9M347.6 210.4V252.3M219.3 333.5V354.7M295.1 252.0V273.9M363.7 244.5V280.5M308.8 281.1V321.9M261.9 286.2V302.9M289.1 306.8V320.8M355.5 245.9V263.1M375.8 242.2V267.2M257.5 305.5V323.3M291.6 280.9V313.0M312.9 283.5V320.6M188.1 369.9V386.9M221.4 338.1V365.5M290.7 296.1V336.0M278.8 289.1V309.5M286.8 250.4V275.8M255.1 297.3V307.7M396.0 199.4V236.9M420.0 179.7V234.7M327.5 263.3V290.0M308.5 261.5V295.5M268.7 291.3V310.3M299.1 254.9V284.2M327.5 225.5V249.1M231.4 299.2V322.9M294.9 281.5V301.4M300.7 269.8V299.0M295.1 275.3V295.7M234.1 324.6V342.3M280.2 294.5V324.0M237.2 320.4V336.6M190.1 365.4V380.1M184.1 377.7V391.6M220.9 344.4V359.5M258.9 293.7V308.0M210.7 344.1V357.6M294.7 261.5V294.5M220.6 318.0V336.5M323.7 245.0V275.7M270.0 268.1V301.0M202.1 344.4V358.2M307.1 241.7V279.9M203.8 350.3V366.0M288.0 297.6V320.1M251.6 318.4V332.5M259.3 300.2V315.3M319.1 248.7V308.4M330.6 237.9V270.0M466.3 249.7V273.2M238.9 309.5V341.0M270.2 269.1V293.3M350.8 244.6V289.5M282.0 276.5V305.6M267.5 286.6V298.3M220.3 320.1V332.2M450.8 231.8V259.7M199.3 350.4V366.4M299.5 257.9V284.5M226.8 327.2V353.7M330.2 220.3V240.6M389.4 201.7V257.7M309.5 260.5V275.0M209.7 339.9V357.6M349.6 226.6V267.7M304.2 282.4V314.6M501.6 203.5V235.9M234.9 309.7V331.6M246.7 297.7V319.0M227.3 328.6V342.8M191.7 365.5V378.8M322.0 268.7V294.7M232.5 291.6V314.6M422.4 253.6V280.2M281.3 307.4V322.2M316.8 253.3V294.5M362.5 225.4V245.2M438.5 232.5V261.6M309.6 254.2V296.3M210.6 334.6V361.1M401.8 223.7V244.2M212.7 315.3V337.5M188.3 383.4V393.9M247.6 312.9V336.2M260.3 292.8V315.7M452.9 217.3V256.4M211.1 338.0V348.5M222.8 302.6V318.0M179.1 389.0V400.8M187.2 378.5V392.5M426.8 187.2V243.3M215.3 322.5V345.8M198.9 346.4V367.3M272.2 296.2V324.5M234.1 305.0V331.7M252.1 287.0V300.6M240.8 285.6V323.7M260.1 289.9V311.1M327.9 270.3V295.3M226.2 334.9V354.0M254.3 314.0V330.4M222.4 321.8V341.4M266.1 287.1V299.0M222.5 325.8V351.8M334.2 269.8V292.0M343.7 233.6V280.3M515.1 201.5V224.0M307.7 236.2V264.4M305.4 273.1V314.4M225.9 315.4V338.8M282.9 278.2V300.9M236.0 310.7V332.9M319.8 251.0V276.7M244.3 321.8V341.4M188.1 365.8V387.2M313.2 258.4V277.5M333.2 249.6V273.4M236.5 288.7V307.1M249.0 289.8V310.1M178.9 393.2V404.9M220.4 323.4V342.0M242.8 314.0V342.8M405.0 202.3V226.8M258.3 290.9V312.3M388.2 239.4V281.5M279.0 308.2V324.0M290.7 291.2V315.4M213.0 340.4V356.4M297.9 273.8V295.3M431.3 234.2V259.4M235.8 322.4V350.0M405.2 235.2V261.6M300.4 256.3V291.8M260.7 291.0V316.7M355.0 252.9V294.8M165.7 431.5V440.0M337.1 259.4V279.2M238.7 305.6V327.6M254.5 298.3V322.8M412.9 229.4V273.1M258.0 307.7V336.1M372.1 254.3V300.2M197.5 365.6V379.7M286.2 306.6V326.2M272.5 304.8V321.2M262.0 297.8V316.9M311.1 287.4V312.8M321.8 221.6V265.1M206.1 335.1V349.3M357.5 245.0V270.9M413.6 241.3V268.6M253.7 281.1V322.3M249.8 308.6V329.9M365.3 213.2V237.3M248.0 292.5V325.4M264.6 289.5V307.1M431.1 252.7V287.7M306.2 259.2V281.2M329.6 243.1V279.3M223.7 318.9V344.1M268.4 293.4V309.0M460.5 201.0V230.5M260.6 298.6V311.5M298.8 286.8V328.3M385.2 220.5V249.1M371.2 279.5V307.0M487.5 200.9V225.2M169.4 420.7V427.4M186.2 378.2V390.4M211.8 326.4V341.2M284.5 253.3V281.5M233.0 295.5V320.1M309.1 264.1V303.3M270.6 269.4V299.7M195.7 352.7V364.4M367.8 266.7V303.4M204.3 354.4V366.9M211.0 337.5V353.9M237.6 280.4V306.1M353.8 237.5V277.0M299.7 241.3V263.2M361.7 247.6V288.7M304.4 281.1V308.6M277.6 263.5V288.4M272.3 312.8V323.3M298.3 257.8V277.9M439.3 222.9V268.0M308.3 284.6V301.6M258.2 308.7V325.6M264.7 302.4V319.9M261.1 311.5V326.8M207.6 359.4V374.5M211.5 325.4V343.8M333.6 253.0V281.9M275.0 281.8V299.2M345.4 257.0V297.8M382.1 224.6V274.9M301.6 280.6V315.4M196.6 357.3V366.2M438.2 222.3V273.0M263.0 287.1V308.2M289.6 263.3V286.6M168.6 422.2V432.3M245.6 306.5V333.6M397.2 201.3V251.3M264.4 280.4V295.6M353.0 208.2V228.8M293.4 254.2V296.1M312.0 290.3V322.9M338.7 212.6V240.6M242.2 323.8V342.4M323.6 280.4V307.1M248.7 298.9V325.3M286.0 273.6V290.2M237.1 301.2V317.7M231.6 302.3V347.3M303.6 271.5V289.8M363.3 208.4V250.0M237.0 310.6V333.3M196.5 352.7V367.5M252.1 289.2V319.1M233.4 318.7V337.6M258.4 278.5V306.1M364.7 218.9V255.0M204.3 335.8V349.3M282.6 271.3V289.5M227.3 310.7V328.5M232.1 322.0V350.2M375.5 251.7V303.8M385.6 233.1V273.3M334.2 262.2V286.4M488.1 200.8V225.8M364.0 214.1V247.7M214.0 330.1V357.3M233.0 332.0V358.7M228.9 315.0V334.2M364.6 198.9V256.7M368.8 273.0V294.9M210.7 331.3V341.5M307.6 282.9V300.1M324.6 261.8V299.6M266.8 272.0V286.0M355.0 245.3V275.0M298.8 248.6V275.3M365.3 215.7V245.6M298.6 257.1V291.9M259.2 309.0V330.3M304.9 249.9V274.9M213.3 318.2V340.7M299.5 262.3V277.2M188.4 384.8V401.7M249.3 307.1V324.8M238.4 316.4V332.6M399.4 217.5V254.0M239.6 302.0V327.1M248.2 284.8V305.7M370.1 241.6V282.6M249.9 299.5V318.8M327.1 249.5V273.2M252.3 284.9V317.5M368.6 213.3V264.2M226.0 335.2V348.9M186.5 371.2V384.9M227.0 313.1V329.4M351.3 251.7V278.7M258.2 302.6V324.3M228.6 299.1V327.3M461.9 205.6V254.1M223.5 319.6V347.4M313.7 249.2V272.2M278.1 270.2V288.1M256.9 311.7V327.5M285.4 298.1V319.5M442.4 238.5V288.6M390.2 280.9V309.1M283.1 280.0V304.5M312.3 296.6V307.8M240.4 314.9V337.9M208.2 361.9V375.9M248.1 314.9V334.3M203.3 366.5V384.1M345.7 267.6V310.1M226.2 316.5V333.4M197.8 367.8V379.6M303.1 276.0V303.7M246.2 305.4V322.8M400.2 190.7V249.7M254.3 286.3V303.8M184.6 374.1V381.8M195.0 364.4V378.1M259.2 302.1V318.1M366.2 227.6V261.6M313.3 269.4V296.7M370.7 214.3V266.0M438.0 218.7V267.1M226.6 326.9V345.2M329.4 246.5V263.6M229.8 322.5V334.2M281.7 262.7V301.5M303.0 282.1V307.9M186.0 381.2V394.9M204.1 354.6V368.8M272.6 284.1V305.4M221.4 312.2V336.5M167.0 431.8V438.9M375.2 252.7V288.0M242.5 321.8V346.1M406.6 210.5V233.9M270.3 295.6V310.7M278.9 295.3V320.4M322.8 255.7V280.2M320.1 263.0V288.8M239.7 301.3V314.8M307.6 260.2V290.9M305.2 258.4V288.7M322.3 260.5V313.0M204.7 357.2V373.1M341.1 211.7V242.2M317.5 259.6V295.3M347.4 284.2V307.6M339.8 216.8V270.6M303.9 255.2V282.5M267.2 286.5V305.4M262.4 297.2V321.2M265.4 282.8V310.6M331.1 240.6V276.1M305.0 242.5V284.3M487.9 199.2V221.8M276.6 301.6V322.9M270.2 279.8V302.8M298.2 238.4V283.9M280.9 294.2V309.7M319.1 256.8V303.9M219.0 331.3V350.4M210.5 344.0V366.6M261.0 298.3V319.7M225.8 343.0V354.9M238.4 284.3V302.4M323.1 245.4V275.6M237.3 314.8V332.7M272.8 269.2V286.6M253.7 303.8V325.0M207.1 338.2V354.0M302.4 283.9V309.3M316.6 254.3V287.5M187.4 385.5V396.2M298.1 287.2V305.0M276.0 291.9V307.6M242.2 281.4V304.2M266.4 299.2V312.5M417.5 210.2V238.4M279.3 296.6V321.8M289.8 269.9V290.2M227.4 320.3V337.9M231.8 327.2V341.5M330.7 222.7V261.6M368.2 231.8V277.2M263.8 280.6V298.0M257.5 295.6V319.3M236.6 331.5V349.1M319.7 234.0V253.5M358.4 287.0V305.1M371.3 260.6V304.6M266.0 288.5V303.8M399.1 244.2V285.9M517.8 215.7V240.4M261.9 300.3V325.7M229.2 303.4V325.9M230.5 308.5V324.2M218.4 347.0V359.8M176.5 402.6V411.9M242.1 310.7V338.9M265.0 292.0V311.1M442.9 195.7V246.3M514.2 167.6V205.8M473.8 226.2V254.7M516.5 193.3V215.9M504.6 220.5V244.0M498.7 180.5V205.9M474.6 197.2V232.9M501.3 191.0V219.7M477.8 223.0V246.1M511.1 201.4V229.3M496.2 169.7V194.9M474.8 217.0V257.6M509.4 218.5V237.7M501.8 190.6V233.1M451.3 202.7V234.2M492.7 195.6V222.0M502.4 206.4V231.2M513.0 195.8V217.7M518.3 194.7V224.8M496.7 214.7V251.1M499.8 188.2V217.5M469.1 180.1V213.7M490.8 171.2V196.1M478.0 214.2V268.9M511.7 218.2V251.5M519.7 206.3V221.2M481.1 224.0V259.0M445.8 259.4V289.1M500.3 208.2V236.2M515.7 199.2V229.5M487.8 197.9V256.3M462.3 205.8V239.5M507.8 219.1V247.3M475.2 209.1V241.1M494.9 214.9V233.2M489.1 199.5V222.3M509.1 203.9V221.0M463.5 226.6V277.5M519.9 177.0V205.4M500.1 174.5V194.0M470.7 222.9V252.0M445.9 218.1V252.1M490.4 213.3V240.8M461.7 192.5V236.1M493.3 170.8V193.7M449.5 220.2V263.4M510.5 220.9V243.4M494.5 207.5V227.4M507.9 184.0V209.4M490.2 175.7V206.9M463.0 223.4V261.3M516.0 188.5V204.1M520.3 170.3V206.5M481.8 207.5V240.1M496.3 227.7V256.7M505.5 204.6V240.9M481.0 195.2V222.2M493.7 223.5V252.4M495.7 212.6V244.5M513.0 197.0V222.2M452.7 237.8V258.8M494.7 220.3V254.1M495.6 218.7V244.3M481.7 192.2V221.8M516.9 182.5V214.0M508.7 197.5V220.2M496.1 207.3V249.6M515.6 177.4V213.8M481.6 186.6V239.1M512.0 200.8V223.7M475.5 197.5V230.3M486.4 201.2V232.0M480.5 228.9V256.7M477.8 220.4V245.0M490.0 240.9V271.2M498.8 221.1V247.1M506.3 216.1V237.2M497.0 211.0V224.9M495.0 197.0V218.0M496.0 185.2V231.2M460.1 215.5V241.0M502.2 210.1V246.7M514.3 225.3V246.3M474.9 213.8V232.2M508.9 182.1V212.0M508.5 184.8V218.4M437.1 223.7V261.2M518.7 195.1V221.9M507.0 208.7V235.6M478.3 189.0V232.3M492.3 198.2V224.0M481.0 204.4V238.8M480.3 172.0V230.8M519.2 189.7V205.1M448.7 204.7V240.3M446.2 228.8V291.7M482.2 242.6V262.2M512.0 204.1V220.5M473.1 186.3V212.2M511.9 210.1V235.5M480.8 175.1V229.1M493.1 170.7V194.5M494.1 198.3V215.7M503.0 200.9V244.7M508.0 184.5V210.3M491.3 202.6V235.3M474.1 243.6V275.7M464.0 194.8V215.9M503.7 228.7V250.6M518.9 208.3V240.8M480.6 174.7V216.6M509.1 178.8V196.2M516.0 204.0V232.4M494.8 223.4V244.2M467.2 209.7V249.7M490.7 186.6V216.6M473.9 230.5V259.6M467.0 199.2V233.3M498.0 194.1V240.6M456.1 197.2V228.1M477.1 243.7V279.3M472.7 236.1V275.1M396.6 209.1V251.6M416.7 209.9V247.4M442.7 225.6V262.5M464.3 232.1V264.1M407.6 182.4V224.0M471.2 233.8V256.9M479.5 209.6V244.4M429.4 228.0V262.2M464.7 209.4V243.1M393.2 249.0V289.4M456.6 213.6V253.4M415.1 235.1V259.3M434.7 235.0V285.2M424.7 215.8V268.0M422.3 222.9V252.7M422.7 218.4V258.7M405.4 209.2V230.7M430.2 230.9V280.1M462.1 190.2V233.4M399.8 213.0V278.5M446.3 223.0V257.2M392.8 195.6V280.5M400.7 196.7V247.9M473.7 229.4V278.8M392.1 209.1V265.1M460.2 199.7V230.8M465.1 229.5V254.4M450.7 215.7V251.8M457.0 221.4V247.5M455.3 209.9V254.3M439.7 191.5V217.3M451.7 244.7V268.0M462.1 235.9V271.9M451.2 248.5V274.5M464.9 216.8V256.4M392.4 208.1V255.9M455.8 224.3V264.8M395.2 225.5V275.1M433.6 200.5V233.9M455.4 229.4V255.9M453.9 231.5V259.9M407.8 236.0V280.6M394.7 226.7V265.2M433.9 181.4V239.9M427.9 187.7V250.8M397.1 200.2V231.0M466.7 180.1V220.6M422.1 205.9V228.5M472.9 228.3V256.5M458.4 216.4V261.7M406.8 246.8V270.4M428.1 254.2V283.8M446.1 232.6V263.7M447.8 256.6V276.6M482.0 240.5V264.2M452.6 207.4V244.5M482.5 218.6V253.1M447.8 203.0V248.9M449.1 255.5V284.1M400.8 227.8V245.7M452.6 247.3V276.8M425.2 241.3V263.9M411.5 197.4V240.1M463.5 214.5V237.0M479.5 173.8V224.9M413.3 231.2V251.0M458.9 235.4V260.4M205.4 320.0V378.6M208.8 311.8V378.2M212.5 312.7V375.4M227.4 293.0V345.4M236.7 277.5V340.9M243.4 268.0V334.6M256.0 266.0V320.1M277.9 232.0V296.3M280.4 236.0V297.8M298.0 223.4V287.6M311.5 224.6V289.7M316.5 220.4V273.9M327.9 197.7V253.0M339.2 188.5V257.5M353.4 170.0V235.3M397.9 144.0V214.1M400.8 143.4V211.7M416.9 148.0V208.2M425.3 152.0V219.1M456.7 132.0V188.5M357.6 181.5V244.6M446.8 125.3V192.4M474.4 143.3V212.2M466.4 152.9V224.9M482.0 155.8V227.4M487.9 168.0V229.3M513.0 150.0V207.4M450.4 130.2V200.1M456.3 131.9V185.7M332.2 253.0V324.6M336.9 264.2V329.6M343.5 255.6V322.0M322.5 274.9V328.8M375.4 254.1V321.2M388.0 277.4V339.7M384.3 254.2V320.4M291.9 275.7V343.0M288.6 282.0V338.0M387.9 276.4V340.0M394.8 269.2V338.0M431.2 263.6V318.6M440.8 264.0V316.4M461.8 250.0V311.9M509.3 237.9V296.3M484.0 254.1V313.9M434.9 256.3V309.6M459.3 243.8V297.0M529.6 222.5V279.6M149.6 604.8V630.2M522.5 121.2V194.6M524.2 175.6V235.6M527.0 210.0V254.0M529.9 196.7V278.7M542.7 208.0V252.0M548.4 170.7V250.7M551.8 160.2V237.4M559.7 144.8V231.2M556.3 227.8V329.0M570.2 173.2V247.2M586.2 161.0V242.2M586.2 178.0V286.0M590.1 106.2V174.2M598.1 104.9V186.9M598.7 168.3V212.3M604.3 165.8V239.8M605.8 186.5V237.7M608.9 178.2V276.2M626.5 116.1V241.7M625.9 158.6V218.6M631.3 143.1V230.1M637.0 133.4V228.4M637.3 157.5V252.5M645.0 103.3V169.3M684.8 113.6V243.6M697.8 156.7V264.7M702.4 194.5V306.5M699.0 219.9V307.9M708.9 150.2V238.2M744.4 102.1V180.1M789.7 100.3V192.9M801.6 172.6V276.2M807.8 145.5V198.5M814.0 114.0V222.0M816.7 152.6V232.6M823.0 102.2V274.2M837.1 92.3V208.1M842.1 107.0V153.0M843.2 152.8V194.8M845.7 140.8V190.8M850.8 30.8V173.4M928.2 129.7V173.7M978.9 53.3V182.1M486.6 309.6V409.6M477.5 271.6V373.6M497.9 262.2V356.2M470.6 266.4V333.4M446.9 245.8V323.8M485.7 241.4V301.4M187.3 324.6V364.6M200.4 311.5V357.5M227.3 293.5V323.5M234.0 284.7V308.7M277.0 232.3V283.5M352.8 166.5V244.5M370.2 183.2V228.6M386.2 165.6V211.0M399.6 143.8V205.8M409.4 112.2V206.2M412.7 137.4V210.6M429.9 129.4V208.4M435.7 125.4V197.4M452.9 116.5V181.7M450.0 125.2V199.2M450.0 144.8V204.8M459.6 144.8V204.8M466.8 152.4V222.4M446.7 125.2V209.2M501.3 125.2V209.2M516.4 123.9V213.9M186.1 351.1V375.1M198.7 364.6V408.6M223.1 347.2V409.2M241.5 336.2V373.2M272.3 315.0V356.0M299.8 304.8V362.8M314.6 321.0V351.0M316.3 309.4V388.4M360.3 284.1V347.3M292.8 303.7V343.7M401.3 295.1V362.3M392.6 274.7V334.7M415.3 264.1V320.1M462.3 246.0V296.0M176.9 377.7V393.7M171.8 391.2V407.2" stroke="#4169e1" stroke-width="2.35" fill="none"/>
<path d="M150.4 578.5h0M152.3 537.6h0M152.6 531.6h0M152.9 527.4h0M153.2 522.7h0M153.7 516.7h0M154.1 513.0h0M154.8 504.4h0M155.6 496.4h0M156.3 487.2h0M157.2 482.9h0M158.0 477.9h0M158.7 472.7h0M159.6 467.6h0M160.7 461.7h0M161.8 455.5h0M162.9 449.5h0M263.3 300.4h0M266.1 314.7h0M442.8 223.8h0M245.4 326.6h0M328.1 280.6h0M261.2 298.0h0M376.1 237.5h0M219.8 342.1h0M363.0 219.9h0M288.5 289.4h0M219.3 327.8h0M304.0 280.0h0M249.3 307.9h0M283.2 274.7h0M424.5 262.5h0M296.9 257.1h0M265.7 301.4h0M332.3 244.4h0M265.0 301.2h0M299.9 311.5h0M342.9 292.1h0M189.8 370.9h0M219.1 327.7h0M177.2 409.5h0M344.8 273.6h0M173.8 409.0h0M308.5 305.1h0M448.8 213.3h0M310.9 261.3h0M424.5 227.0h0M254.1 304.7h0M461.2 211.2h0M349.3 265.7h0M310.4 287.9h0M227.9 331.1h0M420.0 230.6h0M239.7 326.9h0M299.5 289.7h0M205.4 355.0h0M280.8 288.7h0M349.7 278.4h0M257.8 302.8h0M263.0 281.8h0M228.2 311.4h0M272.7 289.5h0M299.5 277.0h0M436.5 253.7h0M177.0 410.3h0M239.0 318.1h0M383.5 239.2h0M218.4 326.0h0M284.6 301.1h0M514.8 206.9h0M350.8 239.5h0M472.2 243.3h0M419.8 229.8h0M266.7 309.6h0M437.3 248.7h0M258.7 315.3h0M322.8 255.9h0M220.8 336.4h0M242.2 324.4h0M201.7 364.1h0M359.6 249.1h0M308.9 246.7h0M292.3 256.8h0M261.4 301.9h0M290.1 303.8h0M247.2 304.7h0M256.7 286.2h0M251.8 287.0h0M355.6 236.8h0M463.1 240.5h0M360.2 263.3h0M292.0 301.0h0M385.3 236.9h0M293.7 304.4h0M260.2 304.0h0M354.1 278.7h0M253.4 306.6h0M347.4 263.1h0M313.2 285.4h0M452.2 253.0h0M381.1 292.0h0M219.3 346.9h0M208.1 357.8h0M379.4 277.6h0M336.3 283.9h0M303.4 287.5h0M260.8 318.0h0M350.0 238.8h0M339.1 257.9h0M390.4 228.1h0M226.6 346.2h0M242.0 326.2h0M284.5 287.9h0M266.9 301.5h0M266.9 310.3h0M269.2 308.3h0M389.6 229.5h0M179.6 392.3h0M271.5 273.9h0M327.3 276.3h0M185.3 380.6h0M269.9 286.4h0M206.2 350.4h0M347.5 257.5h0M236.0 322.7h0M241.6 304.4h0M298.2 264.4h0M228.5 342.4h0M291.4 292.1h0M278.0 306.7h0M243.7 313.4h0M294.1 294.5h0M208.7 346.1h0M271.9 276.0h0M220.6 344.2h0M330.4 242.3h0M349.3 253.9h0M345.3 266.1h0M358.0 261.1h0M273.4 297.4h0M409.5 221.7h0M255.2 297.6h0M492.6 217.6h0M274.1 299.9h0M401.8 208.1h0M311.9 260.5h0M227.1 341.7h0M327.6 248.8h0M297.8 288.4h0M241.6 313.5h0M222.8 323.7h0M274.9 302.9h0M284.6 292.1h0M241.2 310.5h0M209.9 366.7h0M311.9 283.4h0M187.8 382.2h0M360.6 250.1h0M368.6 258.8h0M283.7 308.2h0M203.1 365.7h0M362.8 280.0h0M328.8 271.8h0M306.1 298.0h0M257.3 306.1h0M192.2 366.1h0M212.0 353.2h0M340.9 293.1h0M237.5 302.0h0M311.1 290.2h0M387.6 212.7h0M238.5 313.9h0M236.5 304.1h0M443.1 244.8h0M297.7 285.6h0M290.3 297.0h0M289.3 285.0h0M227.5 346.9h0M331.7 288.0h0M256.5 300.1h0M347.5 298.6h0M305.1 286.9h0M395.3 212.1h0M274.1 280.9h0M223.0 328.3h0M234.6 322.7h0M206.8 347.2h0M295.6 264.5h0M340.6 267.7h0M349.4 264.6h0M469.1 222.1h0M272.2 292.0h0M262.9 300.6h0M261.2 307.4h0M332.0 275.8h0M355.7 260.8h0M180.8 399.3h0M353.0 231.1h0M329.7 251.0h0M253.5 308.0h0M418.9 263.2h0M246.2 301.7h0M269.5 279.5h0M320.7 264.2h0M427.5 219.8h0M373.7 220.4h0M393.8 267.1h0M293.0 314.2h0M351.6 256.0h0M436.6 276.7h0M511.2 217.4h0M344.4 268.8h0M256.1 316.0h0M348.8 257.1h0M243.2 291.6h0M378.0 225.6h0M289.1 273.6h0M297.5 295.0h0M214.6 340.6h0M291.1 289.0h0M240.3 309.9h0M322.6 285.0h0M238.6 303.2h0M354.3 259.0h0M328.6 281.4h0M204.3 371.2h0M251.8 295.3h0M249.3 304.3h0M277.0 306.1h0M382.1 218.1h0M247.5 312.2h0M395.4 278.6h0M409.6 280.3h0M269.3 293.2h0M252.6 311.1h0M346.3 281.1h0M274.8 291.0h0M468.4 214.4h0M273.5 277.5h0M170.8 421.2h0M280.6 303.6h0M352.7 287.2h0M265.0 293.6h0M205.4 344.6h0M382.2 253.7h0M198.7 353.3h0M278.8 290.2h0M259.4 307.5h0M270.3 304.3h0M313.6 273.0h0M420.5 230.1h0M384.6 257.9h0M344.5 289.5h0M360.5 285.4h0M452.6 201.0h0M326.8 281.1h0M461.2 212.0h0M261.2 322.1h0M249.6 312.3h0M280.6 296.2h0M496.0 239.7h0M284.1 292.5h0M341.1 285.9h0M234.0 305.2h0M328.7 289.0h0M245.7 309.7h0M325.4 261.0h0M308.1 264.9h0M319.0 281.2h0M258.2 315.4h0M305.6 299.7h0M206.9 347.7h0M462.7 211.4h0M314.9 251.9h0M352.6 239.4h0M451.8 201.2h0M406.8 214.0h0M252.9 303.4h0M364.5 229.4h0M253.9 321.7h0M187.1 380.9h0M331.8 291.9h0M394.7 265.4h0M201.6 357.9h0M275.5 273.1h0M373.6 257.9h0M382.8 228.6h0M264.8 300.3h0M223.2 314.3h0M353.4 238.8h0M314.6 285.2h0M325.6 247.3h0M411.8 231.2h0M231.3 328.4h0M250.6 284.7h0M381.5 248.5h0M228.8 338.9h0M407.2 205.8h0M386.2 296.3h0M350.7 234.6h0M351.7 242.5h0M217.8 326.2h0M282.3 311.0h0M403.1 276.7h0M232.9 310.2h0M258.3 318.2h0M227.1 340.6h0M305.2 299.0h0M201.8 362.2h0M343.0 232.5h0M398.1 233.8h0M309.5 301.1h0M222.6 350.8h0M269.2 294.7h0M168.8 423.6h0M237.3 329.7h0M270.8 282.6h0M259.3 303.1h0M327.4 286.2h0M257.7 292.3h0M302.8 269.9h0M440.0 247.1h0M377.5 234.9h0M319.6 262.0h0M225.8 330.4h0M296.4 292.0h0M249.6 318.8h0M199.1 374.5h0M269.2 296.3h0M233.5 335.6h0M270.7 277.4h0M459.0 223.7h0M402.6 229.2h0M245.4 323.1h0M255.7 307.0h0M240.5 324.4h0M453.0 251.0h0M224.5 328.5h0M228.5 332.5h0M272.6 303.2h0M257.0 315.6h0M467.2 196.6h0M287.3 293.7h0M266.1 291.6h0M274.5 297.5h0M198.7 359.9h0M353.9 245.4h0M302.2 261.7h0M472.5 204.7h0M270.1 290.3h0M173.7 405.0h0M270.7 302.4h0M417.1 223.4h0M183.2 388.4h0M297.9 273.5h0M204.0 350.2h0M329.0 274.8h0M279.5 295.9h0M474.2 222.8h0M254.6 293.3h0M269.2 292.8h0M208.6 338.4h0M203.5 359.0h0M292.0 293.0h0M363.4 261.4h0M234.5 305.8h0M251.4 318.2h0M367.5 223.6h0M243.1 311.1h0M254.5 317.3h0M264.8 279.6h0M274.2 303.8h0M360.9 245.0h0M281.6 286.3h0M212.7 351.8h0M191.8 374.9h0M195.2 363.6h0M243.3 324.3h0M447.9 219.2h0M339.7 271.0h0M262.9 301.9h0M184.2 389.8h0M454.0 261.0h0M243.6 330.3h0M250.1 321.7h0M207.1 343.2h0M262.8 314.1h0M265.7 315.2h0M239.2 317.4h0M187.2 376.6h0M343.9 259.6h0M334.0 274.4h0M187.7 393.5h0M386.6 234.0h0M298.0 259.5h0M328.6 274.7h0M245.6 311.3h0M293.8 301.7h0M182.6 395.8h0M228.4 327.2h0M301.9 283.6h0M302.8 269.3h0M286.8 284.6h0M231.9 333.7h0M344.6 279.1h0M430.4 221.1h0M369.5 288.3h0M229.7 320.2h0M319.2 280.4h0M285.3 314.3h0M383.4 278.8h0M299.7 289.9h0M330.1 270.3h0M289.1 290.1h0M435.5 267.7h0M215.5 330.0h0M190.2 385.9h0M213.7 362.6h0M340.3 255.0h0M194.6 360.5h0M180.3 402.8h0M277.8 288.0h0M242.8 329.8h0M426.5 235.2h0M283.9 266.2h0M231.3 300.8h0M219.3 350.2h0M205.9 349.8h0M280.5 295.3h0M197.4 377.2h0M292.0 271.9h0M225.7 329.7h0M261.3 324.0h0M329.7 290.8h0M172.7 414.8h0M396.9 230.7h0M362.9 287.9h0M200.5 349.2h0M289.1 303.6h0M199.7 372.1h0M238.0 309.7h0M240.7 299.1h0M240.4 324.1h0M283.4 293.9h0M216.1 337.0h0M431.8 205.2h0M225.1 339.1h0M396.5 250.7h0M352.7 276.6h0M374.3 223.7h0M457.5 213.6h0M443.1 243.0h0M371.5 223.2h0M195.9 372.5h0M227.9 309.0h0M215.3 339.7h0M284.7 271.2h0M298.8 309.0h0M232.0 337.1h0M284.3 299.8h0M336.8 256.2h0M215.8 336.2h0M297.1 293.4h0M212.1 350.2h0M229.5 344.1h0M278.8 271.1h0M294.1 294.6h0M419.7 222.2h0M191.8 370.4h0M297.4 274.7h0M235.4 306.4h0M305.0 270.0h0M367.6 283.2h0M220.8 352.7h0M354.5 242.3h0M261.8 318.2h0M275.1 317.3h0M207.1 350.7h0M257.7 322.3h0M235.2 342.4h0M481.9 228.9h0M332.9 270.3h0M483.8 259.4h0M229.9 328.4h0M318.2 246.7h0M318.0 258.3h0M248.0 296.9h0M283.0 273.8h0M246.5 313.6h0M350.1 254.0h0M307.4 299.4h0M197.8 374.4h0M252.1 322.0h0M329.6 296.0h0M315.8 263.2h0M366.3 216.5h0M355.8 281.6h0M217.1 332.3h0M407.1 239.8h0M225.2 326.3h0M276.4 288.1h0M263.3 289.4h0M332.3 296.2h0M285.7 306.8h0M317.6 283.2h0M206.4 342.5h0M254.9 307.7h0M340.9 265.7h0M339.9 270.4h0M402.3 221.0h0M316.3 265.9h0M173.1 406.8h0M222.8 342.3h0M304.6 265.3h0M286.4 304.1h0M393.5 284.5h0M319.5 274.7h0M272.5 292.9h0M273.3 295.0h0M212.4 341.7h0M188.2 379.9h0M416.7 202.1h0M218.2 339.7h0M355.1 222.6h0M200.9 357.9h0M296.6 289.8h0M311.2 273.3h0M309.3 287.8h0M264.8 299.2h0M359.0 269.5h0M194.2 369.5h0M394.4 214.5h0M388.1 210.7h0M234.5 335.1h0M280.4 309.3h0M281.4 270.5h0M220.4 357.0h0M399.4 246.3h0M383.6 258.5h0M317.0 267.4h0M254.9 294.6h0M248.3 291.6h0M345.6 262.9h0M318.4 280.8h0M288.5 278.1h0M368.2 275.0h0M193.9 385.2h0M416.8 247.8h0M284.3 300.1h0M322.9 266.0h0M325.0 258.6h0M337.8 263.6h0M229.2 318.5h0M376.1 220.0h0M277.7 296.6h0M224.8 334.5h0M376.1 276.5h0M374.0 281.4h0M251.5 300.9h0M299.8 250.6h0M289.9 285.0h0M246.0 294.3h0M294.9 300.9h0M270.3 295.4h0M294.3 283.8h0M213.3 357.8h0M372.6 249.8h0M431.3 234.1h0M330.7 269.5h0M204.7 367.6h0M326.7 257.3h0M498.0 239.5h0M252.0 314.3h0M240.9 300.3h0M202.0 350.9h0M442.1 216.1h0M328.8 298.5h0M362.3 278.8h0M223.0 336.1h0M300.4 283.7h0M279.2 281.2h0M515.6 201.9h0M207.3 340.1h0M321.7 240.2h0M305.9 281.7h0M329.1 292.2h0M357.8 232.9h0M228.9 326.8h0M250.0 309.0h0M280.7 299.9h0M301.4 284.3h0M229.9 338.1h0M292.1 302.1h0M333.1 249.6h0M413.2 231.6h0M462.9 211.5h0M251.6 317.7h0M391.8 245.6h0M382.8 263.0h0M348.9 267.8h0M317.3 282.6h0M346.2 215.7h0M313.4 252.3h0M336.6 250.3h0M332.6 256.1h0M228.7 337.7h0M273.4 318.2h0M225.3 327.0h0M194.0 379.2h0M282.0 300.6h0M241.5 332.9h0M321.2 282.2h0M215.5 349.7h0M236.6 301.7h0M344.9 221.9h0M257.2 306.4h0M293.6 273.4h0M392.1 247.6h0M255.9 303.1h0M259.2 311.2h0M239.4 313.8h0M278.2 296.7h0M375.1 226.2h0M222.8 343.4h0M285.5 286.3h0M318.7 272.5h0M271.4 289.1h0M183.2 388.9h0M222.9 322.9h0M428.6 265.1h0M246.7 324.6h0M277.9 273.0h0M332.7 260.5h0M294.8 299.2h0M349.8 249.8h0M444.1 245.9h0M368.8 223.4h0M199.4 356.7h0M235.7 332.0h0M388.3 268.3h0M224.8 350.8h0M406.5 239.1h0M194.4 375.7h0M272.5 303.0h0M368.3 245.3h0M404.0 281.1h0M326.0 247.7h0M220.4 332.7h0M334.2 249.5h0M359.1 253.7h0M384.1 218.3h0M292.9 287.4h0M357.4 224.9h0M302.9 264.9h0M278.2 308.6h0M275.7 297.9h0M238.1 310.5h0M273.2 292.7h0M222.6 347.6h0M353.9 248.8h0M348.4 213.5h0M313.6 263.9h0M337.2 280.8h0M270.1 287.9h0M204.4 353.6h0M327.2 288.1h0M279.3 284.0h0M293.5 280.5h0M266.1 290.8h0M305.0 295.5h0M257.5 304.1h0M354.4 212.8h0M300.6 309.4h0M274.3 309.6h0M373.0 282.5h0M357.6 246.0h0M228.6 328.9h0M258.5 298.6h0M232.5 332.6h0M282.7 279.6h0M218.6 351.5h0M313.5 276.8h0M277.6 294.4h0M278.8 300.6h0M335.0 239.2h0M313.4 279.2h0M257.1 309.2h0M301.2 274.9h0M272.2 306.8h0M311.6 287.4h0M423.2 208.4h0M212.6 332.1h0M281.9 303.9h0M296.9 294.1h0M232.8 313.8h0M225.5 324.4h0M289.6 277.9h0M365.1 253.4h0M234.9 305.4h0M453.8 235.3h0M306.1 280.6h0M299.7 271.5h0M279.0 295.6h0M228.0 312.9h0M313.9 269.2h0M365.2 228.6h0M225.6 329.8h0M333.5 240.1h0M352.4 222.6h0M456.1 229.1h0M203.4 361.5h0M184.0 391.9h0M212.1 356.4h0M180.6 394.5h0M371.1 251.0h0M317.7 289.8h0M427.4 254.3h0M379.9 242.2h0M308.9 255.4h0M309.4 300.3h0M210.8 353.4h0M393.1 238.1h0M332.3 243.4h0M234.7 336.5h0M291.5 263.5h0M317.9 290.0h0M211.5 333.8h0M263.4 309.6h0M186.9 384.8h0M222.9 321.7h0M284.0 280.9h0M246.7 300.7h0M220.2 338.3h0M318.6 276.6h0M327.3 238.7h0M327.0 268.8h0M373.0 236.6h0M503.7 207.4h0M319.1 287.6h0M291.9 261.4h0M295.7 289.5h0M244.2 308.0h0M389.0 199.4h0M236.3 321.9h0M352.9 266.5h0M254.8 327.2h0M359.0 268.0h0M446.4 229.6h0M265.2 321.0h0M282.3 270.5h0M380.0 280.8h0M425.4 243.4h0M266.9 299.4h0M290.9 307.4h0M252.1 303.3h0M275.1 311.4h0M258.5 296.5h0M343.5 278.5h0M292.4 258.0h0M369.1 271.6h0M193.7 371.9h0M416.9 271.9h0M313.4 278.4h0M201.4 366.4h0M197.1 370.1h0M236.9 320.4h0M501.0 224.1h0M263.3 295.6h0M217.5 337.4h0M314.9 262.7h0M243.1 323.4h0M291.7 261.5h0M273.1 301.9h0M276.2 288.0h0M359.8 257.1h0M405.5 226.2h0M452.5 253.0h0M249.8 316.5h0M230.3 323.3h0M186.1 379.6h0M229.7 338.1h0M434.2 200.9h0M357.4 250.9h0M258.8 324.8h0M191.1 380.4h0M288.9 302.4h0M245.4 319.5h0M272.2 312.1h0M302.1 285.9h0M300.8 278.5h0M405.4 205.3h0M297.6 282.6h0M183.7 393.3h0M426.4 230.4h0M165.4 440.7h0M256.1 299.9h0M296.9 283.1h0M245.2 310.6h0M191.8 377.9h0M223.1 328.3h0M190.5 375.3h0M352.5 270.5h0M355.9 269.0h0M318.8 270.8h0M428.1 212.0h0M289.7 260.5h0M333.2 295.8h0M346.0 255.8h0M488.6 241.0h0M323.7 296.9h0M347.7 292.8h0M233.2 329.4h0M307.1 279.6h0M350.1 251.4h0M241.6 317.5h0M317.8 275.7h0M313.7 305.0h0M269.5 291.3h0M170.6 425.9h0M279.7 281.9h0M316.4 281.4h0M245.0 313.1h0M352.2 288.7h0M351.8 245.7h0M299.3 258.8h0M277.5 301.0h0M266.6 304.7h0M446.2 221.5h0M251.3 295.4h0M337.2 255.8h0M476.4 237.8h0M233.4 333.1h0M440.9 274.8h0M455.4 203.7h0M310.8 274.1h0M298.6 267.5h0M253.1 287.3h0M418.5 214.8h0M332.2 268.7h0M223.0 312.2h0M452.1 206.5h0M288.6 260.8h0M200.9 354.0h0M188.1 380.4h0M199.1 354.9h0M246.9 293.8h0M266.2 308.4h0M449.1 219.8h0M212.7 348.9h0M307.1 277.7h0M251.3 295.5h0M328.1 275.4h0M319.9 292.1h0M269.9 300.2h0M282.8 312.2h0M305.9 285.1h0M278.0 277.8h0M320.3 274.5h0M412.5 240.5h0M227.8 337.6h0M326.9 284.5h0M191.6 369.6h0M338.0 248.6h0M202.3 370.5h0M357.5 258.0h0M248.8 297.2h0M202.9 374.0h0M306.3 276.7h0M289.0 281.5h0M297.9 277.6h0M242.5 335.5h0M228.5 329.4h0M248.9 313.2h0M222.7 337.6h0M246.0 294.9h0M256.8 326.2h0M362.7 260.5h0M402.9 281.4h0M215.7 341.9h0M333.8 262.8h0M199.0 368.3h0M465.0 251.0h0M195.1 367.5h0M356.9 263.9h0M190.3 376.6h0M187.5 387.9h0M196.0 380.1h0M319.4 288.9h0M330.9 288.5h0M265.4 287.9h0M215.1 346.3h0M207.5 335.0h0M265.0 314.7h0M275.1 298.0h0M222.2 345.1h0M505.7 227.0h0M295.3 272.5h0M337.2 295.6h0M267.4 288.1h0M208.4 355.5h0M395.7 266.5h0M274.4 281.0h0M249.5 321.9h0M251.7 324.5h0M275.2 284.5h0M254.8 295.9h0M463.6 231.7h0M294.7 275.0h0M196.5 356.7h0M267.1 310.4h0M465.5 227.6h0M269.5 311.2h0M316.8 280.2h0M198.3 362.2h0M287.5 270.9h0M252.0 309.6h0M382.1 269.2h0M239.9 306.3h0M466.0 255.7h0M223.6 340.0h0M221.5 340.3h0M250.0 294.3h0M297.8 283.2h0M228.0 305.3h0M397.5 218.8h0M301.9 301.1h0M213.2 363.2h0M369.0 261.6h0M211.2 340.3h0M327.4 274.6h0M176.6 411.1h0M327.6 259.9h0M237.7 327.6h0M239.6 335.0h0M263.9 299.9h0M244.8 320.4h0M382.6 246.6h0M275.9 298.4h0M365.0 246.0h0M316.8 293.9h0M310.2 311.6h0M205.1 348.8h0M203.9 345.9h0M226.9 336.4h0M355.8 256.6h0M439.4 257.3h0M285.5 290.8h0M293.9 316.7h0M214.6 350.4h0M261.1 303.1h0M236.4 335.4h0M261.0 308.1h0M207.4 353.1h0M262.5 287.1h0M298.8 296.7h0M292.3 317.0h0M365.9 281.6h0M275.6 308.9h0M311.3 270.0h0M374.9 218.6h0M301.6 310.8h0M187.8 381.7h0M219.5 333.9h0M243.0 324.7h0M210.9 352.3h0M349.7 289.4h0M203.4 345.8h0M279.2 285.3h0M293.0 310.8h0M394.6 244.5h0M215.6 362.7h0M314.9 270.0h0M275.3 283.7h0M197.0 356.0h0M413.4 255.1h0M312.6 284.6h0M271.2 313.1h0M472.0 214.7h0M316.0 262.7h0M199.0 366.1h0M253.9 308.4h0M290.3 275.9h0M283.5 289.3h0M330.5 256.2h0M200.3 363.8h0M297.0 311.0h0M311.5 272.2h0M360.7 256.9h0M336.2 274.0h0M277.2 311.3h0M208.4 358.9h0M281.1 269.1h0M289.0 277.8h0M265.9 279.2h0M279.3 272.9h0M360.0 249.1h0M276.2 272.0h0M231.7 335.4h0M291.7 278.8h0M251.9 325.5h0M504.4 212.2h0M286.2 291.2h0M339.1 271.6h0M363.1 225.7h0M362.2 256.4h0M265.4 295.7h0M328.8 275.4h0M317.4 256.3h0M434.5 250.9h0M265.6 290.8h0M287.6 309.3h0M381.1 213.4h0M219.9 342.9h0M206.2 352.8h0M238.3 329.1h0M335.5 293.6h0M276.9 297.1h0M219.5 321.4h0M299.2 256.0h0M238.2 326.4h0M296.5 256.5h0M410.8 243.9h0M175.3 414.4h0M184.1 388.7h0M238.6 319.6h0M320.4 249.0h0M372.2 281.0h0M331.5 238.2h0M328.8 248.2h0M207.3 344.5h0M327.0 300.0h0M299.2 313.7h0M352.2 230.3h0M233.2 329.5h0M171.9 412.4h0M325.4 296.0h0M241.2 307.7h0M365.4 239.0h0M215.2 360.5h0M299.1 287.9h0M339.2 289.8h0M283.8 303.2h0M355.6 226.6h0M319.9 272.1h0M243.8 331.2h0M318.3 284.8h0M246.2 330.9h0M216.6 352.7h0M359.3 240.6h0M263.4 318.9h0M299.0 281.8h0M481.7 197.6h0M271.2 317.0h0M331.3 288.6h0M303.8 284.9h0M505.4 225.6h0M201.7 359.1h0M166.4 438.2h0M361.5 257.5h0M329.4 251.8h0M364.4 289.0h0M365.4 270.0h0M431.7 255.4h0M270.3 296.4h0M260.2 293.6h0M262.6 291.4h0M329.0 257.0h0M397.0 256.5h0M213.9 342.6h0M404.6 225.2h0M215.3 351.0h0M218.9 349.4h0M224.2 322.0h0M210.0 334.2h0M249.7 303.5h0M386.7 243.0h0M333.9 258.1h0M350.1 267.2h0M273.8 283.1h0M362.4 262.5h0M300.7 313.2h0M295.8 282.2h0M219.9 343.4h0M312.8 264.2h0M221.8 347.3h0M340.4 270.3h0M250.0 305.6h0M200.3 367.1h0M417.0 243.1h0M237.0 332.4h0M346.8 282.9h0M405.6 229.6h0M272.1 288.6h0M366.0 261.7h0M448.4 267.7h0M237.4 315.2h0M248.9 300.1h0M220.3 327.2h0M236.0 311.6h0M345.8 262.0h0M368.8 260.7h0M249.4 303.7h0M336.6 249.8h0M255.2 298.8h0M427.4 258.7h0M294.6 307.0h0M277.8 287.5h0M351.6 250.1h0M259.6 300.8h0M214.1 337.0h0M283.5 316.8h0M168.4 431.1h0M216.2 333.0h0M212.9 351.6h0M292.1 288.8h0M260.5 284.1h0M235.2 311.3h0M343.3 276.0h0M371.3 243.9h0M505.7 232.7h0M242.2 310.5h0M262.0 321.4h0M184.9 379.9h0M180.9 402.4h0M296.1 262.4h0M429.8 258.6h0M226.6 323.5h0M186.4 380.1h0M251.1 309.6h0M209.9 334.8h0M236.6 309.8h0M211.3 344.9h0M234.6 324.4h0M334.9 259.6h0M221.3 331.1h0M274.1 301.8h0M236.2 318.3h0M261.3 292.4h0M378.3 275.5h0M280.8 265.7h0M248.6 317.6h0M358.1 262.5h0M197.2 369.8h0M248.6 313.1h0M230.1 347.7h0M216.7 345.9h0M294.8 277.5h0M213.7 354.8h0M200.4 351.6h0M381.1 250.6h0M282.7 292.8h0M232.8 299.6h0M263.4 314.6h0M324.9 267.7h0M274.8 300.2h0M198.6 369.2h0M436.7 215.9h0M239.1 340.5h0M435.0 219.9h0M428.9 271.5h0M454.9 234.5h0M258.9 294.0h0M328.4 281.5h0M391.7 244.6h0M182.9 388.6h0M272.4 293.9h0M470.5 218.2h0M259.3 295.6h0M276.5 284.8h0M172.1 416.8h0M390.1 255.0h0M221.1 333.0h0M281.2 285.3h0M224.2 313.3h0M324.0 268.3h0M415.1 217.7h0M198.2 358.4h0M310.5 311.1h0M402.3 249.0h0M351.9 266.4h0M292.1 288.5h0M270.7 276.8h0M198.3 366.9h0M291.4 282.0h0M223.6 309.2h0M300.3 276.6h0M214.2 360.5h0M328.4 295.0h0M317.3 272.8h0M271.8 289.0h0M273.4 309.0h0M275.0 273.7h0M253.2 285.1h0M251.8 321.9h0M189.3 382.9h0M195.6 377.8h0M227.9 319.9h0M256.1 313.4h0M404.3 216.1h0M387.8 211.5h0M405.4 241.3h0M351.1 282.9h0M258.4 314.8h0M330.1 260.1h0M329.0 256.4h0M265.9 299.6h0M250.9 323.4h0M355.0 228.1h0M368.1 255.2h0M198.1 357.7h0M508.3 200.3h0M292.5 265.4h0M215.7 333.1h0M322.1 247.6h0M352.0 249.0h0M308.0 279.3h0M185.2 389.8h0M302.8 298.6h0M269.6 312.1h0M378.5 264.6h0M190.5 378.9h0M232.2 325.0h0M420.1 203.8h0M279.7 306.8h0M193.2 365.9h0M379.3 216.9h0M321.9 277.5h0M240.1 326.8h0M191.2 374.1h0M336.1 291.1h0M337.1 239.0h0M210.0 338.3h0M373.4 241.0h0M249.4 295.5h0M197.5 358.6h0M266.8 302.0h0M285.4 275.8h0M188.0 372.4h0M183.6 387.8h0M353.9 229.8h0M330.9 232.2h0M318.4 292.0h0M272.8 296.1h0M471.7 248.6h0M317.2 270.1h0M302.9 290.2h0M270.8 279.7h0M366.6 261.3h0M292.0 271.2h0M412.9 233.8h0M280.4 283.9h0M263.1 314.2h0M359.8 228.5h0M386.8 249.8h0M277.7 296.1h0M352.7 280.2h0M484.8 209.3h0M205.5 359.7h0M174.1 414.7h0M265.8 300.7h0M188.2 386.9h0M308.3 251.9h0M244.5 322.6h0M487.7 195.5h0M190.7 386.2h0M244.9 302.4h0M251.0 324.6h0M253.4 303.1h0M191.0 364.6h0M440.9 196.0h0M241.7 300.0h0M395.3 268.2h0M176.3 408.4h0M232.8 319.2h0M204.0 347.7h0M303.9 299.2h0M195.5 377.3h0M273.6 315.7h0M394.2 207.4h0M413.1 264.6h0M447.9 223.0h0M218.6 337.9h0M296.5 273.0h0M341.3 274.9h0M217.3 339.6h0M340.1 240.2h0M261.4 294.8h0M445.7 240.5h0M302.2 264.1h0M346.0 254.2h0M251.7 314.8h0M260.2 302.8h0M323.5 286.6h0M299.0 291.2h0M401.9 285.9h0M350.2 240.0h0M242.6 304.2h0M385.0 230.8h0M280.0 293.3h0M312.7 253.3h0M237.5 328.1h0M355.8 215.7h0M202.8 358.6h0M326.0 287.6h0M240.7 314.1h0M253.3 323.4h0M244.2 323.1h0M244.0 302.7h0M362.0 276.8h0M218.3 352.9h0M215.3 326.5h0M268.7 302.8h0M367.8 243.4h0M204.6 367.0h0M181.9 399.6h0M324.1 279.5h0M219.1 337.4h0M192.7 365.1h0M490.7 232.7h0M450.5 209.9h0M196.3 371.1h0M344.7 284.8h0M257.0 311.9h0M255.2 314.0h0M332.7 295.9h0M179.6 405.2h0M247.0 305.1h0M181.6 391.8h0M432.8 214.4h0M313.4 307.9h0M344.9 270.8h0M301.8 308.4h0M406.2 205.0h0M305.2 274.7h0M284.6 278.0h0M296.6 253.4h0M272.7 317.7h0M303.9 281.9h0M316.3 268.3h0M229.8 318.7h0M257.7 304.1h0M295.0 268.5h0M298.1 275.2h0M269.5 301.8h0M167.9 424.9h0M236.0 328.4h0M296.3 267.0h0M193.0 366.3h0M416.3 266.5h0M398.2 254.8h0M260.5 300.0h0M431.1 231.6h0M215.5 331.9h0M424.2 245.5h0M315.1 248.4h0M270.3 294.9h0M324.5 245.2h0M342.8 235.2h0M173.4 416.7h0M233.3 322.6h0M200.8 352.1h0M230.3 341.2h0M465.3 221.5h0M267.0 300.9h0M227.3 318.0h0M236.0 336.8h0M309.6 264.3h0M393.2 212.4h0M269.0 303.7h0M323.6 276.4h0M250.4 297.8h0M182.7 393.4h0M197.9 358.3h0M264.5 282.7h0M206.1 367.3h0M205.0 347.9h0M327.8 237.7h0M173.2 420.2h0M205.6 350.1h0M196.0 361.6h0M243.2 320.6h0M282.4 284.0h0M232.6 339.9h0M234.6 321.2h0M219.8 346.5h0M268.5 286.9h0M262.1 301.0h0M229.6 325.5h0M382.0 215.9h0M290.6 276.3h0M272.4 303.8h0M375.2 254.9h0M241.6 327.1h0M251.7 300.3h0M221.3 316.0h0M305.1 290.2h0M385.0 218.4h0M289.9 298.2h0M247.3 299.7h0M196.7 375.3h0M330.5 296.8h0M332.9 288.2h0M417.7 225.5h0M366.9 258.4h0M450.7 214.2h0M343.6 262.5h0M254.7 285.9h0M334.4 263.4h0M205.4 357.7h0M206.0 365.1h0M261.9 312.9h0M204.8 351.3h0M385.6 288.5h0M299.7 303.0h0M324.7 280.4h0M259.2 306.1h0M204.8 357.1h0M178.1 402.7h0M316.7 290.6h0M310.4 307.3h0M231.5 302.6h0M252.3 297.9h0M438.7 221.9h0M242.0 324.2h0M307.5 292.9h0M181.2 395.2h0M280.5 280.4h0M222.2 333.1h0M368.6 252.3h0M289.1 274.8h0M494.9 232.9h0M278.4 305.7h0M363.7 264.3h0M249.4 314.0h0M270.2 279.8h0M215.0 328.3h0M436.5 260.2h0M265.4 311.3h0M329.8 267.0h0M188.3 376.3h0M231.5 335.6h0M329.9 236.3h0M388.9 270.4h0M212.8 351.2h0M385.1 213.8h0M265.7 285.5h0M190.0 378.8h0M368.1 253.5h0M360.8 247.2h0M304.4 259.7h0M215.5 343.9h0M364.6 245.3h0M402.9 253.8h0M373.3 242.7h0M281.8 279.9h0M309.3 290.1h0M218.6 324.6h0M242.6 315.3h0M378.4 259.6h0M321.9 259.1h0M240.8 309.9h0M269.4 310.8h0M272.1 284.5h0M324.2 250.3h0M379.9 240.1h0M379.8 226.6h0M291.7 301.6h0M309.6 259.1h0M219.6 334.3h0M320.5 252.4h0M300.2 261.7h0M307.7 306.3h0M198.1 359.5h0M357.8 235.7h0M291.8 264.3h0M474.0 211.9h0M247.6 306.4h0M332.7 298.0h0M229.3 339.2h0M225.9 326.1h0M498.3 207.1h0M267.2 297.8h0M260.8 308.0h0M259.8 309.8h0M326.3 251.6h0M180.4 390.5h0M277.6 290.8h0M163.7 442.0h0M320.4 280.1h0M239.4 305.8h0M418.5 250.6h0M311.3 259.6h0M303.3 287.6h0M179.1 401.9h0M270.5 299.9h0M229.8 332.4h0M283.1 298.3h0M250.5 323.4h0M270.4 308.3h0M275.7 297.9h0M367.6 254.2h0M208.7 357.5h0M190.0 370.5h0M323.3 295.1h0M239.7 312.3h0M205.8 362.3h0M375.0 233.7h0M273.4 311.3h0M287.3 288.5h0M250.4 296.9h0M337.7 244.8h0M375.4 276.6h0M438.1 249.4h0M210.8 362.6h0M222.1 341.0h0M183.5 400.2h0M358.4 269.1h0M399.5 269.4h0M351.4 263.6h0M269.7 302.3h0M406.6 244.9h0M243.7 316.8h0M453.6 208.4h0M256.1 311.3h0M318.4 285.1h0M262.9 288.3h0M238.8 307.9h0M317.0 295.2h0M405.7 270.8h0M345.6 220.3h0M187.5 377.1h0M511.5 205.5h0M276.0 294.4h0M289.8 279.9h0M381.9 206.1h0M350.2 247.4h0M367.4 280.0h0M232.0 319.1h0M237.2 334.8h0M221.5 324.9h0M234.7 311.1h0M264.9 285.5h0M427.0 229.8h0M379.8 244.4h0M347.6 231.3h0M219.3 344.1h0M295.1 263.0h0M363.7 262.5h0M308.8 301.5h0M261.9 294.6h0M289.1 313.8h0M355.5 254.5h0M375.8 254.7h0M257.5 314.4h0M291.6 296.9h0M312.9 302.1h0M188.1 378.4h0M221.4 351.8h0M290.7 316.0h0M278.8 299.3h0M286.8 263.1h0M255.1 302.5h0M396.0 218.2h0M420.0 207.2h0M327.5 276.7h0M308.5 278.5h0M268.7 300.8h0M299.1 269.5h0M327.5 237.3h0M231.4 311.0h0M294.9 291.5h0M300.7 284.4h0M295.1 285.5h0M234.1 333.4h0M280.2 309.2h0M237.2 328.5h0M190.1 372.7h0M184.1 384.7h0M220.9 351.9h0M258.9 300.9h0M210.7 350.8h0M294.7 278.0h0M220.6 327.3h0M323.7 260.4h0M270.0 284.6h0M202.1 351.3h0M307.1 260.8h0M203.8 358.1h0M288.0 308.8h0M251.6 325.5h0M259.3 307.7h0M319.1 278.6h0M330.6 253.9h0M466.3 261.4h0M238.9 325.3h0M270.2 281.2h0M350.8 267.1h0M282.0 291.0h0M267.5 292.5h0M220.3 326.1h0M450.8 245.8h0M199.3 358.4h0M299.5 271.2h0M226.8 340.5h0M330.2 230.4h0M389.4 229.7h0M309.5 267.8h0M209.7 348.7h0M349.6 247.1h0M304.2 298.5h0M501.6 219.7h0M234.9 320.6h0M246.7 308.3h0M227.3 335.7h0M191.7 372.2h0M322.0 281.7h0M232.5 303.1h0M422.4 266.9h0M281.3 314.8h0M316.8 273.9h0M362.5 235.3h0M438.5 247.1h0M309.6 275.3h0M210.6 347.9h0M401.8 234.0h0M212.7 326.4h0M188.3 388.7h0M247.6 324.5h0M260.3 304.3h0M452.9 236.9h0M211.1 343.3h0M222.8 310.3h0M179.1 394.9h0M187.2 385.5h0M426.8 215.3h0M215.3 334.1h0M198.9 356.8h0M272.2 310.4h0M234.1 318.4h0M252.1 293.8h0M240.8 304.6h0M260.1 300.5h0M327.9 282.8h0M226.2 344.5h0M254.3 322.2h0M222.4 331.6h0M266.1 293.1h0M222.5 338.8h0M334.2 280.9h0M343.7 256.9h0M515.1 212.8h0M307.7 250.3h0M305.4 293.7h0M225.9 327.1h0M282.9 289.5h0M236.0 321.8h0M319.8 263.9h0M244.3 331.6h0M188.1 376.5h0M313.2 268.0h0M333.2 261.5h0M236.5 297.9h0M249.0 300.0h0M178.9 399.0h0M220.4 332.7h0M242.8 328.4h0M405.0 214.5h0M258.3 301.6h0M388.2 260.4h0M279.0 316.1h0M290.7 303.3h0M213.0 348.4h0M297.9 284.5h0M431.3 246.8h0M235.8 336.2h0M405.2 248.4h0M300.4 274.1h0M260.7 303.9h0M355.0 273.8h0M165.7 435.8h0M337.1 269.3h0M238.7 316.6h0M254.5 310.6h0M412.9 251.3h0M258.0 321.9h0M372.1 277.2h0M197.5 372.6h0M286.2 316.4h0M272.5 313.0h0M262.0 307.3h0M311.1 300.1h0M321.8 243.3h0M206.1 342.2h0M357.5 258.0h0M413.6 255.0h0M253.7 301.7h0M249.8 319.2h0M365.3 225.2h0M248.0 309.0h0M264.6 298.3h0M431.1 270.2h0M306.2 270.2h0M329.6 261.2h0M223.7 331.5h0M268.4 301.2h0M460.5 215.7h0M260.6 305.1h0M298.8 307.5h0M385.2 234.8h0M371.2 293.3h0M487.5 213.0h0M169.4 424.1h0M186.2 384.3h0M211.8 333.8h0M284.5 267.4h0M233.0 307.8h0M309.1 283.7h0M270.6 284.5h0M195.7 358.6h0M367.8 285.0h0M204.3 360.7h0M211.0 345.7h0M237.6 293.3h0M353.8 257.2h0M299.7 252.3h0M361.7 268.1h0M304.4 294.8h0M277.6 275.9h0M272.3 318.0h0M298.3 267.9h0M439.3 245.5h0M308.3 293.1h0M258.2 317.2h0M264.7 311.2h0M261.1 319.1h0M207.6 366.9h0M211.5 334.6h0M333.6 267.5h0M275.0 290.5h0M345.4 277.4h0M382.1 249.7h0M301.6 298.0h0M196.6 361.8h0M438.2 247.6h0M263.0 297.7h0M289.6 275.0h0M168.6 427.3h0M245.6 320.1h0M397.2 226.3h0M264.4 288.0h0M353.0 218.5h0M293.4 275.1h0M312.0 306.6h0M338.7 226.6h0M242.2 333.1h0M323.6 293.8h0M248.7 312.1h0M286.0 281.9h0M237.1 309.4h0M231.6 324.8h0M303.6 280.6h0M363.3 229.2h0M237.0 322.0h0M196.5 360.1h0M252.1 304.1h0M233.4 328.1h0M258.4 292.3h0M364.7 236.9h0M204.3 342.6h0M282.6 280.4h0M227.3 319.6h0M232.1 336.1h0M375.5 277.8h0M385.6 253.2h0M334.2 274.3h0M488.1 213.3h0M364.0 230.9h0M214.0 343.7h0M233.0 345.4h0M228.9 324.6h0M364.6 227.8h0M368.8 284.0h0M210.7 336.4h0M307.6 291.5h0M324.6 280.7h0M266.8 279.0h0M355.0 260.2h0M298.8 261.9h0M365.3 230.6h0M298.6 274.5h0M259.2 319.7h0M304.9 262.4h0M213.3 329.4h0M299.5 269.7h0M188.4 393.2h0M249.3 315.9h0M238.4 324.5h0M399.4 235.8h0M239.6 314.6h0M248.2 295.2h0M370.1 262.1h0M249.9 309.1h0M327.1 261.4h0M252.3 301.2h0M368.6 238.7h0M226.0 342.1h0M186.5 378.1h0M227.0 321.3h0M351.3 265.2h0M258.2 313.5h0M228.6 313.2h0M461.9 229.8h0M223.5 333.5h0M313.7 260.7h0M278.1 279.2h0M256.9 319.6h0M285.4 308.8h0M442.4 263.6h0M390.2 295.0h0M283.1 292.3h0M312.3 302.2h0M240.4 326.4h0M208.2 368.9h0M248.1 324.6h0M203.3 375.3h0M345.7 288.9h0M226.2 324.9h0M197.8 373.7h0M303.1 289.9h0M246.2 314.1h0M400.2 220.2h0M254.3 295.1h0M184.6 377.9h0M195.0 371.3h0M259.2 310.1h0M366.2 244.6h0M313.3 283.0h0M370.7 240.2h0M438.0 242.9h0M226.6 336.1h0M329.4 255.1h0M229.8 328.4h0M281.7 282.1h0M303.0 295.0h0M186.0 388.0h0M204.1 361.7h0M272.6 294.8h0M221.4 324.4h0M167.0 435.4h0M375.2 270.4h0M242.5 333.9h0M406.6 222.2h0M270.3 303.1h0M278.9 307.9h0M322.8 267.9h0M320.1 275.9h0M239.7 308.0h0M307.6 275.5h0M305.2 273.6h0M322.3 286.8h0M204.7 365.1h0M341.1 227.0h0M317.5 277.5h0M347.4 295.9h0M339.8 243.7h0M303.9 268.8h0M267.2 296.0h0M262.4 309.2h0M265.4 296.7h0M331.1 258.4h0M305.0 263.4h0M487.9 210.5h0M276.6 312.3h0M270.2 291.3h0M298.2 261.2h0M280.9 302.0h0M319.1 280.4h0M219.0 340.8h0M210.5 355.3h0M261.0 309.0h0M225.8 348.9h0M238.4 293.3h0M323.1 260.5h0M237.3 323.7h0M272.8 277.9h0M253.7 314.4h0M207.1 346.1h0M302.4 296.6h0M316.6 270.9h0M187.4 390.9h0M298.1 296.1h0M276.0 299.7h0M242.2 292.8h0M266.4 305.9h0M417.5 224.3h0M279.3 309.2h0M289.8 280.0h0M227.4 329.1h0M231.8 334.3h0M330.7 242.2h0M368.2 254.5h0M263.8 289.3h0M257.5 307.4h0M236.6 340.3h0M319.7 243.7h0M358.4 296.0h0M371.3 282.6h0M266.0 296.1h0M399.1 265.0h0M517.8 228.0h0M261.9 313.0h0M229.2 314.7h0M230.5 316.3h0M218.4 353.4h0M176.5 407.3h0M242.1 324.8h0M265.0 301.5h0M442.9 221.0h0M514.2 186.7h0M473.8 240.4h0M516.5 204.6h0M504.6 232.3h0M498.7 193.2h0M474.6 215.0h0M501.3 205.4h0M477.8 234.6h0M511.1 215.4h0M496.2 182.3h0M474.8 237.3h0M509.4 228.1h0M501.8 211.8h0M451.3 218.5h0M492.7 208.8h0M502.4 218.8h0M513.0 206.7h0M518.3 209.7h0M496.7 232.9h0M499.8 202.8h0M469.1 196.9h0M490.8 183.6h0M478.0 241.5h0M511.7 234.9h0M519.7 213.8h0M481.1 241.5h0M445.8 274.3h0M500.3 222.2h0M515.7 214.3h0M487.8 227.1h0M462.3 222.6h0M507.8 233.2h0M475.2 225.1h0M494.9 224.1h0M489.1 210.9h0M509.1 212.5h0M463.5 252.1h0M519.9 191.2h0M500.1 184.2h0M470.7 237.4h0M445.9 235.1h0M490.4 227.0h0M461.7 214.3h0M493.3 182.3h0M449.5 241.8h0M510.5 232.1h0M494.5 217.4h0M507.9 196.7h0M490.2 191.3h0M463.0 242.4h0M516.0 196.3h0M520.3 188.4h0M481.8 223.8h0M496.3 242.2h0M505.5 222.7h0M481.0 208.7h0M493.7 238.0h0M495.7 228.6h0M513.0 209.6h0M452.7 248.3h0M494.7 237.2h0M495.6 231.5h0M481.7 207.0h0M516.9 198.3h0M508.7 208.8h0M496.1 228.4h0M515.6 195.6h0M481.6 212.8h0M512.0 212.3h0M475.5 213.9h0M486.4 216.6h0M480.5 242.8h0M477.8 232.7h0M490.0 256.1h0M498.8 234.1h0M506.3 226.6h0M497.0 218.0h0M495.0 207.5h0M496.0 208.2h0M460.1 228.2h0M502.2 228.4h0M514.3 235.8h0M474.9 223.0h0M508.9 197.0h0M508.5 201.6h0M437.1 242.4h0M518.7 208.5h0M507.0 222.2h0M478.3 210.6h0M492.3 211.1h0M481.0 221.6h0M480.3 201.4h0M519.2 197.4h0M448.7 222.5h0M446.2 260.3h0M482.2 252.4h0M512.0 212.3h0M473.1 199.2h0M511.9 222.8h0M480.8 202.1h0M493.1 182.6h0M494.1 207.0h0M503.0 222.8h0M508.0 197.4h0M491.3 218.9h0M474.1 259.7h0M464.0 205.3h0M503.7 239.7h0M518.9 224.5h0M480.6 195.6h0M509.1 187.5h0M516.0 218.2h0M494.8 233.8h0M467.2 229.7h0M490.7 201.6h0M473.9 245.1h0M467.0 216.3h0M498.0 217.3h0M456.1 212.6h0M477.1 261.5h0M472.7 255.6h0M396.6 230.4h0M416.7 228.6h0M442.7 244.0h0M464.3 248.1h0M407.6 203.2h0M471.2 245.3h0M479.5 227.0h0M429.4 245.1h0M464.7 226.2h0M393.2 269.2h0M456.6 233.5h0M415.1 247.2h0M434.7 260.1h0M424.7 241.9h0M422.3 237.8h0M422.7 238.5h0M405.4 220.0h0M430.2 255.5h0M462.1 211.8h0M399.8 245.8h0M446.3 240.1h0M392.8 238.0h0M400.7 222.3h0M473.7 254.1h0M392.1 237.1h0M460.2 215.3h0M465.1 241.9h0M450.7 233.7h0M457.0 234.5h0M455.3 232.1h0M439.7 204.4h0M451.7 256.4h0M462.1 253.9h0M451.2 261.5h0M464.9 236.6h0M392.4 232.0h0M455.8 244.6h0M395.2 250.3h0M433.6 217.2h0M455.4 242.6h0M453.9 245.7h0M407.8 258.3h0M394.7 245.9h0M433.9 210.6h0M427.9 219.3h0M397.1 215.6h0M466.7 200.3h0M422.1 217.2h0M472.9 242.4h0M458.4 239.0h0M406.8 258.6h0M428.1 269.0h0M446.1 248.1h0M447.8 266.6h0M482.0 252.3h0M452.6 226.0h0M482.5 235.9h0M447.8 226.0h0M449.1 269.8h0M400.8 236.7h0M452.6 262.0h0M425.2 252.6h0M411.5 218.7h0M463.5 225.7h0M479.5 199.3h0M413.3 241.1h0M458.9 247.9h0M205.4 349.3h0M208.8 345.0h0M212.5 344.0h0M227.4 319.2h0M236.7 309.2h0M243.4 301.3h0M256.0 293.0h0M277.9 264.1h0M280.4 266.9h0M298.0 255.5h0M311.5 257.1h0M316.5 247.1h0M327.9 225.4h0M339.2 223.0h0M353.4 202.6h0M397.9 179.0h0M400.8 177.5h0M416.9 178.1h0M425.3 185.5h0M456.7 160.3h0M357.6 213.1h0M446.8 158.9h0M474.4 177.8h0M466.4 188.9h0M482.0 191.6h0M487.9 198.7h0M513.0 178.7h0M450.4 165.1h0M456.3 158.8h0M332.2 288.8h0M336.9 296.9h0M343.5 288.8h0M322.5 301.9h0M375.4 287.7h0M388.0 308.6h0M384.3 287.3h0M291.9 309.4h0M288.6 310.0h0M387.9 308.2h0M394.8 303.6h0M431.2 291.1h0M440.8 290.2h0M461.8 281.0h0M509.3 267.1h0M484.0 284.0h0M434.9 282.9h0M459.3 270.4h0M529.6 251.1h0M149.6 617.5h0M522.5 157.9h0M524.2 205.6h0M527.0 232.0h0M529.9 237.7h0M542.7 230.0h0M548.4 210.7h0M551.8 198.8h0M559.7 188.0h0M556.3 278.4h0M570.2 210.2h0M586.2 201.6h0M586.2 232.0h0M590.1 140.2h0M598.1 145.9h0M598.7 190.3h0M604.3 202.8h0M605.8 212.1h0M608.9 227.2h0M626.5 178.9h0M625.9 188.6h0M631.3 186.6h0M637.0 180.9h0M637.3 205.0h0M645.0 136.3h0M684.8 178.6h0M697.8 210.7h0M702.4 250.5h0M699.0 263.9h0M708.9 194.2h0M744.4 141.1h0M789.7 146.6h0M801.6 224.4h0M807.8 172.0h0M814.0 168.0h0M816.7 192.6h0M823.0 188.2h0M837.1 150.2h0M842.1 130.0h0M843.2 173.8h0M845.7 165.8h0M850.8 102.1h0M928.2 151.7h0M978.9 117.7h0M486.6 359.6h0M477.5 322.6h0M497.9 309.2h0M470.6 299.9h0M446.9 284.8h0M485.7 271.4h0M187.3 344.6h0M200.4 334.5h0M227.3 308.5h0M234.0 296.7h0M277.0 257.9h0M352.8 205.5h0M370.2 205.9h0M386.2 188.3h0M399.6 174.8h0M409.4 159.2h0M412.7 174.0h0M429.9 168.9h0M435.7 161.4h0M452.9 149.1h0M450.0 162.2h0M450.0 174.8h0M459.6 174.8h0M466.8 187.4h0M446.7 167.2h0M501.3 167.2h0M516.4 168.9h0M186.1 363.1h0M198.7 386.6h0M223.1 378.2h0M241.5 354.7h0M272.3 335.5h0M299.8 333.8h0M314.6 336.0h0M316.3 348.9h0M360.3 315.7h0M292.8 323.7h0M401.3 328.7h0M392.6 304.7h0M415.3 292.1h0M462.3 271.0h0M176.9 385.7h0M171.8 399.2h0" stroke="#4169e1" stroke-width="15.4" stroke-linecap="round" fill="none"/>
<path d="M153.35 613.74 L153.56 602.94 L153.76 593.75 L153.96 585.76 L154.17 578.68 L154.37 572.32 L154.57 566.55 L154.78 561.28 L154.98 556.41 L155.18 551.89 L155.39 547.68 L155.59 543.73 L155.79 540.01 L155.99 536.50 L156.20 533.18 L156.40 530.02 L156.60 527.01 L156.80 524.13 L157.01 521.38 L157.21 518.74 L157.41 516.21 L157.61 513.77 L157.82 511.43 L158.02 509.16 L158.22 506.97 L158.42 504.85 L158.63 502.80 L158.83 500.82 L159.03 498.89 L159.23 497.01 L159.44 495.19 L159.64 493.42 L159.84 491.70 L160.04 490.02 L160.24 488.38 L160.45 486.78 L160.65 485.22 L160.85 483.69 L161.05 482.20 L161.25 480.74 L161.46 479.31 L161.66 477.92 L161.86 476.55 L162.06 475.21 L162.26 473.89 L162.47 472.60 L162.67 471.34 L162.87 470.10 L163.07 468.88 L163.27 467.71 L164.78 459.35 L166.28 451.92 L167.79 445.22 L169.29 439.11 L170.79 433.49 L172.29 428.28 L173.79 423.43 L175.29 418.89 L176.79 414.61 L178.28 410.58 L179.78 406.75 L181.28 403.12 L182.77 399.65 L184.27 396.34 L185.76 393.17 L187.25 390.13 L188.75 387.21 L190.24 384.40 L191.73 381.69 L193.22 379.07 L194.72 376.55 L196.21 374.10 L197.70 371.73 L199.19 369.43 L200.68 367.19 L202.18 365.02 L203.67 362.91 L205.16 360.86 L206.65 358.86 L208.14 356.91 L209.64 355.01 L211.13 353.16 L212.62 351.35 L214.11 349.58 L215.60 347.85 L217.10 346.16 L218.59 344.50 L220.08 342.88 L221.57 341.29 L223.07 339.74 L224.56 338.21 L226.05 336.72 L227.55 335.25 L229.04 333.81 L230.54 332.40 L232.03 331.01 L233.52 329.65 L235.02 328.31 L236.51 326.99 L238.01 325.70 L239.51 324.43 L241.00 323.18 L242.50 321.94 L243.99 320.73 L245.49 319.54 L246.99 318.36 L248.48 317.21 L249.98 316.07 L251.48 314.94 L252.98 313.84 L254.47 312.75 L255.97 311.67 L257.47 310.61 L258.97 309.57 L260.47 308.53 L261.97 307.52 L263.48 306.53 L264.98 305.55 L266.49 304.58 L268.00 303.62 L269.50 302.68 L271.01 301.75 L272.52 300.83 L274.02 299.92 L275.53 299.02 L277.04 298.13 L278.54 297.26 L280.05 296.39 L281.56 295.54 L283.07 294.69 L284.57 293.85 L286.08 293.03 L287.59 292.21 L289.10 291.40 L290.61 290.60 L292.11 289.81 L293.62 289.03 L295.13 288.26 L296.64 287.49 L298.15 286.74 L299.66 285.99 L301.16 285.25 L302.67 284.51 L304.18 283.79 L305.69 283.07 L307.20 282.36 L308.71 281.65 L310.22 280.95 L311.73 280.26 L313.24 279.58 L314.75 278.90 L316.26 278.23 L317.77 277.56 L319.28 276.90 L320.79 276.25 L322.30 275.61 L323.81 274.97 L325.32 274.34 L326.82 273.73 L328.32 273.13 L329.84 272.53 L331.35 271.93 L332.86 271.34 L334.38 270.76 L335.89 270.18 L337.40 269.61 L338.92 269.04 L340.43 268.48 L341.94 267.92 L343.46 267.36 L344.97 266.81 L346.48 266.27 L348.00 265.73 L349.51 265.19 L351.02 264.66 L352.54 264.13 L354.05 263.61 L355.56 263.09 L357.08 262.58 L358.59 262.07 L360.11 261.56 L361.62 261.06 L363.13 260.56 L364.65 260.07 L366.16 259.58 L367.68 259.09 L369.18 258.61 L370.67 258.14 L372.15 257.67 L373.66 257.19 L375.17 256.72 L376.68 256.25 L378.18 255.78 L379.69 255.32 L381.20 254.86 L382.71 254.41 L384.21 253.95 L385.72 253.50 L387.23 253.06 L388.74 252.62 L390.25 252.18 L391.91 251.69 L393.64 251.13 L395.24 250.60 L396.78 250.10 L398.31 249.59 L399.85 249.10 L401.39 248.60 L402.93 248.11 L399.08 237.80 L397.59 238.44 L396.09 239.08 L394.59 239.72 L393.09 240.37 L391.59 241.02 L390.15 241.65 L388.85 242.17 L387.47 242.56 L385.94 243.00 L384.42 243.44 L382.89 243.88 L381.36 244.33 L379.83 244.78 L378.30 245.24 L376.77 245.70 L375.24 246.16 L373.71 246.62 L372.18 247.09 L370.66 247.56 L369.13 248.04 L367.57 248.53 L366.02 249.05 L364.50 249.58 L362.97 250.11 L361.45 250.65 L359.93 251.19 L358.41 251.74 L356.88 252.28 L355.36 252.84 L353.84 253.39 L352.32 253.95 L350.79 254.52 L349.27 255.09 L347.75 255.66 L346.22 256.24 L344.70 256.82 L343.18 257.41 L341.66 258.00 L340.13 258.60 L338.61 259.20 L337.09 259.80 L335.56 260.42 L334.04 261.03 L332.52 261.65 L330.99 262.28 L329.47 262.91 L327.95 263.55 L326.42 264.19 L324.90 264.84 L323.37 265.50 L321.83 266.17 L320.30 266.85 L318.78 267.54 L317.25 268.22 L315.73 268.91 L314.20 269.60 L312.67 270.31 L311.15 271.02 L309.62 271.73 L308.09 272.45 L306.57 273.18 L305.04 273.92 L303.51 274.66 L301.99 275.41 L300.46 276.17 L298.93 276.93 L297.40 277.71 L295.88 278.49 L294.35 279.28 L292.82 280.08 L291.29 280.88 L289.77 281.69 L288.24 282.52 L286.71 283.35 L285.18 284.19 L283.65 285.04 L282.12 285.90 L280.60 286.77 L279.07 287.65 L277.54 288.54 L276.01 289.44 L274.48 290.35 L272.95 291.27 L271.42 292.20 L269.89 293.14 L268.36 294.10 L266.83 295.06 L265.30 296.04 L263.77 297.03 L262.24 298.04 L260.71 299.05 L259.18 300.08 L257.65 301.13 L256.12 302.18 L254.58 303.25 L253.04 304.32 L251.50 305.42 L249.97 306.53 L248.43 307.65 L246.89 308.79 L245.35 309.95 L243.81 311.13 L242.27 312.33 L240.73 313.54 L239.19 314.77 L237.65 316.03 L236.11 317.30 L234.57 318.59 L233.03 319.91 L231.49 321.25 L229.95 322.61 L228.41 324.00 L226.86 325.41 L225.32 326.85 L223.78 328.31 L222.24 329.80 L220.70 331.32 L219.15 332.87 L217.61 334.46 L216.07 336.07 L214.52 337.72 L212.98 339.40 L211.43 341.12 L209.89 342.87 L208.35 344.67 L206.80 346.51 L205.26 348.39 L203.71 350.32 L202.17 352.29 L200.62 354.32 L199.08 356.39 L197.53 358.53 L195.99 360.72 L194.45 362.97 L192.90 365.29 L191.36 367.68 L189.81 370.14 L188.27 372.68 L186.72 375.31 L185.18 378.02 L183.64 380.84 L182.09 383.75 L180.55 386.78 L179.01 389.93 L177.46 393.21 L175.92 396.63 L174.38 400.22 L172.84 403.97 L171.30 407.92 L169.76 412.09 L168.22 416.49 L166.68 421.17 L165.15 426.16 L163.61 431.50 L162.08 437.27 L160.54 443.52 L159.01 450.38 L157.48 457.95 L155.95 466.41 L155.74 467.66 L155.54 468.90 L155.33 470.16 L155.13 471.45 L154.92 472.76 L154.72 474.09 L154.52 475.46 L154.31 476.85 L154.11 478.26 L153.90 479.71 L153.70 481.19 L153.49 482.71 L153.29 484.25 L153.08 485.84 L152.88 487.46 L152.68 489.12 L152.47 490.82 L152.27 492.57 L152.06 494.36 L151.86 496.21 L151.65 498.10 L151.45 500.06 L151.25 502.07 L151.04 504.14 L150.84 506.28 L150.63 508.49 L150.43 510.78 L150.23 513.15 L150.02 515.61 L149.82 518.17 L149.62 520.83 L149.41 523.60 L149.21 526.50 L149.00 529.53 L148.80 532.72 L148.60 536.06 L148.39 539.60 L148.19 543.34 L147.99 547.31 L147.78 551.55 L147.58 556.09 L147.38 560.98 L147.17 566.28 L146.97 572.07 L146.77 578.45 L146.56 585.56 L146.36 593.58 L146.16 602.79 L145.95 613.60Z" fill="#000"/>
<path d="M149.59 617.43 L149.85 603.31 L150.10 591.81 L150.36 582.12 L150.62 573.74 L150.88 566.35 L151.13 559.74 L151.39 553.76 L151.65 548.29 L151.90 543.27 L152.16 538.61 L152.42 534.26 L152.67 530.20 L152.93 526.38 L153.19 522.77 L153.44 519.35 L153.70 516.11 L153.96 513.02 L154.22 510.07 L154.47 507.25 L154.73 504.54 L154.99 501.95 L155.24 499.45 L155.50 497.04 L155.76 494.72 L156.01 492.47 L156.27 490.30 L156.53 488.20 L156.78 486.16 L157.04 484.18 L157.30 482.26 L157.55 480.39 L157.81 478.58 L158.07 476.81 L158.33 475.08 L158.58 473.40 L158.84 471.76 L159.10 470.16 L159.35 468.59 L159.61 467.06 L162.35 452.55 L165.09 440.54 L167.83 430.27 L170.57 421.27 L173.31 413.25 L176.05 406.02 L178.79 399.42 L181.53 393.35 L184.27 387.73 L187.01 382.49 L189.75 377.59 L192.49 372.97 L195.22 368.62 L197.96 364.49 L200.70 360.58 L203.44 356.85 L206.18 353.29 L208.92 349.88 L211.66 346.62 L214.40 343.48 L217.14 340.47 L219.88 337.57 L222.62 334.77 L225.36 332.07 L228.10 329.46 L230.84 326.94 L233.58 324.49 L236.32 322.12 L239.06 319.82 L241.80 317.59 L244.54 315.42 L247.28 313.30 L250.02 311.25 L252.76 309.25 L255.50 307.30 L258.24 305.40 L260.98 303.54 L263.72 301.73 L266.45 299.96 L269.19 298.23 L271.93 296.54 L274.67 294.89 L277.41 293.27 L280.15 291.69 L282.89 290.14 L285.63 288.62 L288.37 287.13 L291.11 285.67 L293.85 284.24 L296.59 282.83 L299.33 281.45 L302.07 280.10 L304.81 278.77 L307.55 277.47 L310.29 276.18 L313.03 274.92 L315.77 273.68 L318.51 272.46 L321.25 271.26 L323.99 270.08 L326.73 268.92 L329.47 267.78 L332.21 266.65 L334.95 265.54 L337.68 264.45 L340.42 263.38 L343.16 262.32 L345.90 261.27 L348.64 260.24 L351.38 259.23 L354.12 258.22 L356.86 257.24 L359.60 256.26 L362.34 255.30 L365.08 254.35 L367.82 253.42 L370.56 252.49 L373.30 251.58 L376.04 250.68 L378.78 249.79 L381.52 248.91 L384.26 248.04 L387.00 247.18 L389.74 246.34 L392.48 245.50 L395.22 244.67 L397.96 243.85 L400.70 243.04 L403.44 242.24 L406.18 241.45 L408.91 240.67 L411.65 239.89 L414.39 239.13 L417.13 238.37 L419.87 237.62 L422.61 236.88 L425.35 236.15 L428.09 235.42 L430.83 234.70 L433.57 233.99 L436.31 233.29 L439.05 232.59 L441.79 231.90 L444.53 231.21 L447.27 230.54 L450.01 229.87 L452.75 229.20 L455.49 228.54 L458.23 227.89 L460.97 227.24 L463.71 226.60 L466.45 225.97 L469.19 225.34 L471.93 224.72 L474.67 224.10 L477.40 223.49 L480.14 222.88 L482.88 222.28 L485.62 221.68 L488.36 221.09 L491.10 220.50 L493.84 219.92 L496.58 219.34 L499.32 218.77 L502.06 218.21 L504.80 217.64 L507.54 217.08 L510.28 216.53 L513.02 215.98 L515.76 215.44 L518.50 214.89 L521.24 214.36 L523.98 213.82 L526.72 213.30 L529.46 212.77 L532.20 212.25 L534.94 211.73 L537.68 211.22 L540.42 210.71 L543.16 210.21 L545.90 209.70 L548.63 209.21 L551.37 208.71 L554.11 208.22 L556.85 207.73 L559.59 207.25 L562.33 206.77 L565.07 206.29 L567.81 205.82 L570.55 205.35 L573.29 204.88 L576.03 204.41 L578.77 203.95 L581.51 203.49 L584.25 203.04 L586.99 202.58 L589.73 202.14 L592.47 201.69 L595.21 201.25 L597.95 200.80 L600.69 200.37 L603.43 199.93 L606.17 199.50 L608.91 199.07 L611.65 198.64 L614.39 198.22 L617.13 197.80 L619.86 197.38 L622.60 196.96 L625.34 196.55 L628.08 196.13 L630.82 195.72 L633.56 195.32 L636.30 194.91 L639.04 194.51 L641.78 194.11 L644.52 193.71 L647.26 193.32 L650.00 192.93 L652.74 192.54 L655.48 192.15 L658.22 191.76 L660.96 191.38 L663.70 190.99 L666.44 190.62 L669.18 190.24 L671.92 189.86 L674.66 189.49 L677.40 189.12 L680.14 188.75 L682.88 188.38 L685.62 188.01 L688.36 187.65 L691.09 187.29 L693.83 186.93 L696.57 186.57 L699.31 186.22 L702.05 185.86 L704.79 185.51 L707.53 185.16 L710.27 184.81 L713.01 184.46 L715.75 184.12 L718.49 183.78 L721.23 183.43 L723.97 183.09 L726.71 182.76 L729.45 182.42 L732.19 182.08 L734.93 181.75 L737.67 181.42 L740.41 181.09 L743.15 180.76 L745.89 180.44 L748.63 180.11 L751.37 179.79 L754.11 179.46 L756.85 179.14 L759.59 178.82 L762.32 178.51 L765.06 178.19 L767.80 177.88 L770.54 177.56 L773.28 177.25 L776.02 176.94 L778.76 176.63 L781.50 176.32 L784.24 176.02 L786.98 175.71 L789.72 175.41 L792.46 175.11 L795.20 174.81 L797.94 174.51 L800.68 174.21 L803.42 173.91 L806.16 173.62 L808.90 173.32 L811.64 173.03 L814.38 172.74 L817.12 172.45 L819.86 172.16 L822.60 171.87 L825.34 171.59 L828.08 171.30 L830.81 171.02 L833.55 170.73 L836.29 170.45 L839.03 170.17 L841.77 169.89 L844.51 169.61 L847.25 169.34 L849.99 169.06 L852.73 168.78 L855.47 168.51 L858.21 168.24 L860.95 167.97 L863.69 167.70 L866.43 167.43 L869.17 167.16 L871.91 166.89 L874.65 166.63 L877.39 166.36 L880.13 166.10 L882.87 165.83 L885.61 165.57 L888.35 165.31 L891.09 165.05 L893.83 164.79 L896.57 164.53 L899.31 164.28 L902.04 164.02 L904.78 163.76 L907.52 163.51 L910.26 163.26 L913.00 163.01 L915.74 162.75 L918.48 162.50 L921.22 162.25 L923.96 162.01 L926.70 161.76 L929.44 161.51 L932.18 161.27 L934.92 161.02 L937.66 160.78 L940.40 160.53 L943.14 160.29 L945.88 160.05 L948.62 159.81 L951.36 159.57 L954.10 159.33 L956.84 159.09 L959.58 158.86 L962.32 158.62 L965.06 158.39 L967.80 158.15 L970.54 157.92 L973.27 157.68 L976.01 157.45 L978.75 157.22" stroke="#f00" stroke-width="2.3" stroke-dasharray="7.4 2.73" stroke-dashoffset="1.4" fill="none"/>
<rect x="108.5" y="1.5" width="912" height="659" fill="none" stroke="#000" stroke-width="3"/>
<path d="M148.6 660.5v13.3M368.8 660.5v13.3M589.0 660.5v13.3M809.2 660.5v13.3M108.5 538.2h-13.6M108.5 398.2h-13.6M108.5 258.2h-13.6M108.5 118.2h-13.6" stroke="#000" stroke-width="3" fill="none"/>
<g font-family="DejaVu Sans, sans-serif" font-size="38.2" fill="#000">
<text x="148.6" y="716.3" text-anchor="middle">0</text>
<text x="368.8" y="716.3" text-anchor="middle">2</text>
<text x="589.0" y="716.3" text-anchor="middle">4</text>
<text x="809.2" y="716.3" text-anchor="middle">6</text>
<text x="82.1" y="552.7" text-anchor="end">4</text>
<text x="82.1" y="412.7" text-anchor="end">5</text>
<text x="82.1" y="272.7" text-anchor="end">6</text>
<text x="82.1" y="132.7" text-anchor="end">7</text>
</g>
<text x="564.6" y="775" text-anchor="middle" font-family="DejaVu Sans, sans-serif" font-size="47.5" fill="#000">z</text>
<g transform="translate(28.5 407.7) rotate(-90)" font-family="DejaVu Sans, sans-serif" font-size="38.2" fill="#000"><text x="0" y="0">log</text><text x="59" y="0" font-style="oblique">D</text><text x="88" y="6.5" font-size="26.7" font-style="oblique">L</text><text x="104" y="0" font-style="oblique">H</text><text x="134" y="6.5" font-size="26.7">0</text></g>
<rect x="456.6" y="496.8" width="548.6" height="148" rx="6" ry="6" fill="#fff" fill-opacity="0.8" stroke="#ccc" stroke-opacity="0.8" stroke-width="3.8"/>
<path d="M468.3 524.9H529.7" stroke="#f00" stroke-width="2.3" stroke-dasharray="7.4 2.73" fill="none"/>
<path d="M467.9 570.9H530.9" stroke="#000" stroke-width="2.2" fill="none"/>
<path d="M499.2 600.3V631" stroke="#4169e1" stroke-width="2.35" fill="none"/>
<circle cx="499.15" cy="615.85" r="7.7" fill="#4169e1"/>
<g font-family="DejaVu Sans, sans-serif" font-size="30.6" fill="#000">
<text x="554.6" y="532.5">ΛCDM with Ω</text>
<text x="754" y="537.5" font-size="21.4" font-style="oblique">m</text>
<text x="781" y="532.5">=</text>
<text x="813" y="532.5">0.3,</text>
<text x="877" y="532.5" font-style="oblique">H</text>
<text x="900" y="537.5" font-size="21.4">0</text>
<text x="921" y="532.5">=</text>
<text x="953" y="532.5">70</text>
<text x="553.9" y="581.7">GP from mock SN</text>
<text x="554.0" y="627.1">mock QSOs</text>
</g>
</svg>
</body></html>
